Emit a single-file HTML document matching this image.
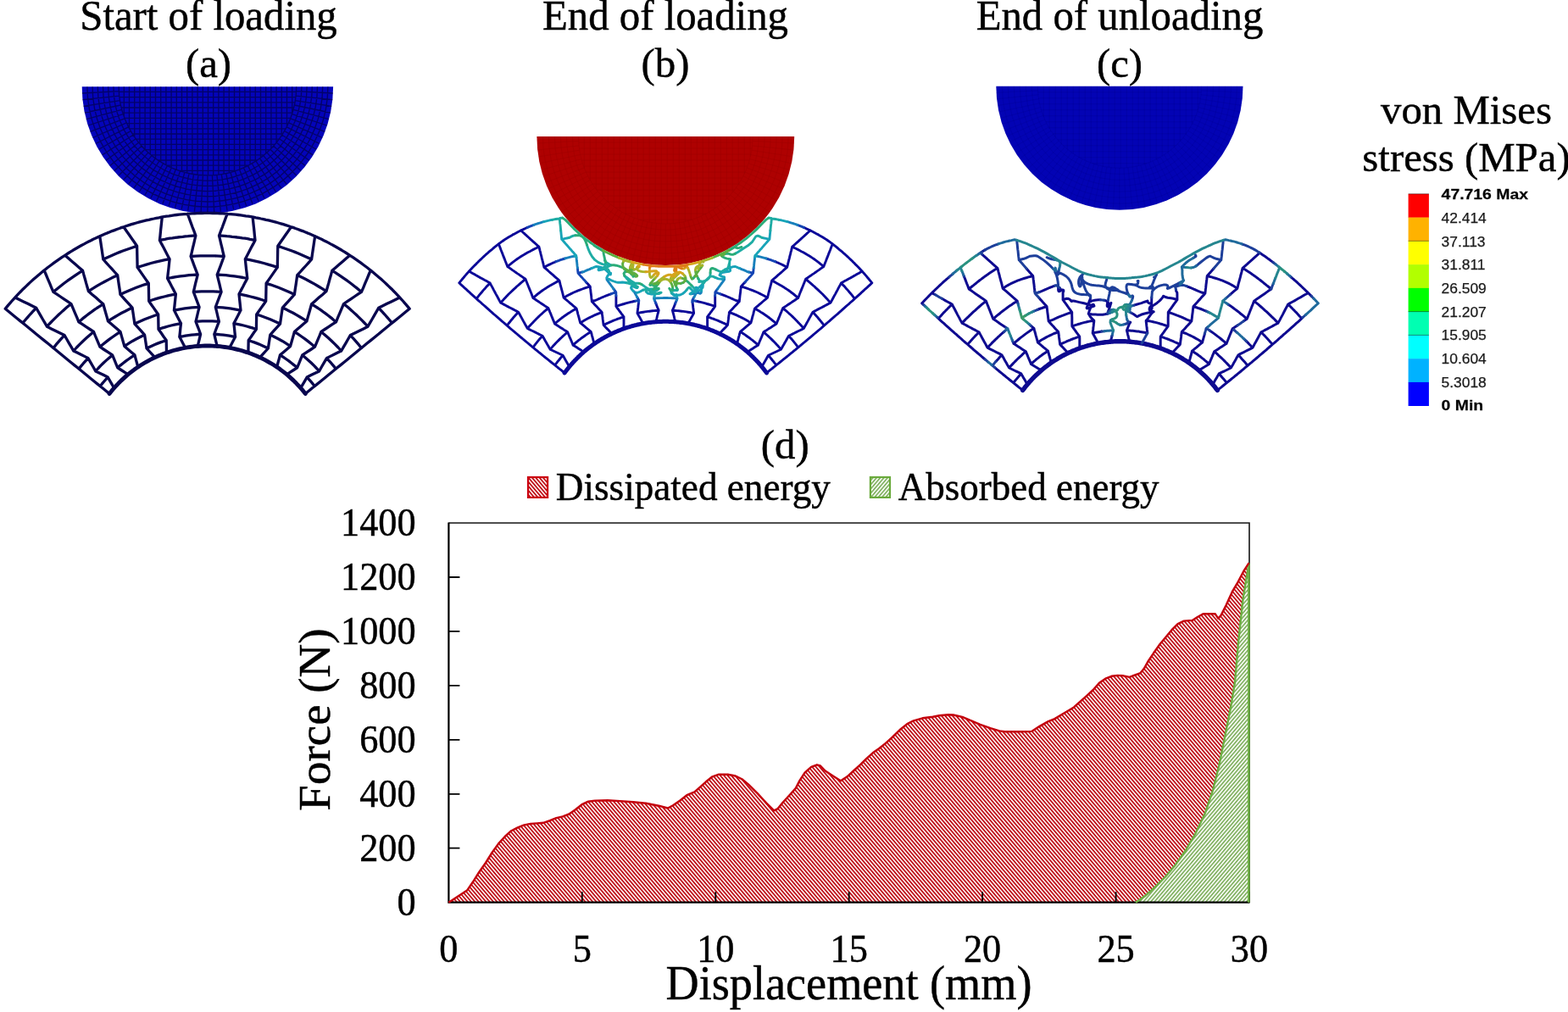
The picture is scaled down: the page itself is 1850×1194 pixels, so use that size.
<!DOCTYPE html>
<html lang="en"><head><meta charset="utf-8"><title>Figure</title>
<style>
html,body{margin:0;padding:0;background:#fff;}
body{width:1850px;height:1194px;overflow:hidden;}
svg{display:block;}
.serif{font-family:"Liberation Serif",serif;fill:#000;stroke:#000;stroke-width:0.45px;}
.sans{font-family:"Liberation Sans",sans-serif;fill:#000;stroke:#111;stroke-width:0.25px;}
</style></head>
<body>
<svg width="1850" height="1194" viewBox="0 0 1850 1194">
<path d="M96.7,102.2 H393.1 A148.2,149.6 0 0 1 96.7,102.2 Z" fill="#0404ba"/>
<path d="M102.9,102.2 A142.0,142.0 0 0 0 386.9,102.2 M109.1,102.2 A135.8,135.8 0 0 0 380.7,102.2 M115.3,102.2 A129.6,129.6 0 0 0 374.5,102.2 M121.5,102.2 A123.4,123.4 0 0 0 368.3,102.2 M127.7,102.2 A117.2,117.2 0 0 0 362.1,102.2 M133.9,102.2 A111.0,111.0 0 0 0 355.9,102.2 M140.1,102.2 A104.8,104.8 0 0 0 349.7,102.2 M140.2,107.7 L96.9,110.0 M140.7,113.2 L97.5,117.7 M141.4,118.6 L98.5,125.4 M142.4,124.0 L99.9,133.0 M143.7,129.3 L101.7,140.6 M145.2,134.6 L104.0,148.0 M147.1,139.8 L106.5,155.3 M149.2,144.8 L109.5,162.5 M151.5,149.8 L112.9,169.5 M154.1,154.6 L116.6,176.3 M157.0,159.3 L120.6,182.9 M160.1,163.8 L125.0,189.3 M163.5,168.2 L129.7,195.5 M167.0,172.3 L134.8,201.4 M170.8,176.3 L140.1,207.0 M174.8,180.1 L145.7,212.3 M178.9,183.6 L151.6,217.4 M183.3,187.0 L157.8,222.1 M187.8,190.1 L164.2,226.5 M192.5,193.0 L170.8,230.5 M197.3,195.6 L177.6,234.2 M202.3,197.9 L184.6,237.6 M207.3,200.0 L191.8,240.6 M212.5,201.9 L199.1,243.1 M217.8,203.4 L206.5,245.4 M223.1,204.7 L214.1,247.2 M228.5,205.7 L221.7,248.6 M233.9,206.4 L229.4,249.6 M239.4,206.9 L237.1,250.2 M244.9,207.0 L244.9,250.4 M250.4,206.9 L252.7,250.2 M255.9,206.4 L260.4,249.6 M261.3,205.7 L268.1,248.6 M266.7,204.7 L275.7,247.2 M272.0,203.4 L283.3,245.4 M277.3,201.9 L290.7,243.1 M282.5,200.0 L298.0,240.6 M287.5,197.9 L305.2,237.6 M292.5,195.6 L312.2,234.2 M297.3,193.0 L319.0,230.5 M302.0,190.1 L325.6,226.5 M306.5,187.0 L332.0,222.1 M310.9,183.6 L338.2,217.4 M315.0,180.1 L344.1,212.3 M319.0,176.3 L349.7,207.0 M322.8,172.3 L355.0,201.4 M326.3,168.2 L360.1,195.5 M329.7,163.8 L364.8,189.3 M332.8,159.3 L369.2,182.9 M335.7,154.6 L373.2,176.3 M338.3,149.8 L376.9,169.5 M340.6,144.8 L380.3,162.5 M342.7,139.8 L383.3,155.3 M344.6,134.6 L385.8,148.0 M346.1,129.3 L388.1,140.6 M347.4,124.0 L389.9,133.0 M348.4,118.6 L391.3,125.4 M349.1,113.2 L392.3,117.7 M349.6,107.7 L392.9,110.0 M146.3,102.2 v35.5 M152.5,102.2 v49.4 M158.7,102.2 v59.6 M164.9,102.2 v67.7 M171.1,102.2 v74.4 M177.3,102.2 v80.1 M183.5,102.2 v84.9 M189.7,102.2 v89.1 M195.9,102.2 v92.6 M202.1,102.2 v95.7 M208.3,102.2 v98.2 M214.5,102.2 v100.3 M220.7,102.2 v102.0 M226.9,102.2 v103.2 M233.1,102.2 v104.1 M239.3,102.2 v104.7 M245.5,102.2 v104.8 M251.7,102.2 v104.6 M257.9,102.2 v104.0 M264.1,102.2 v103.0 M270.3,102.2 v101.7 M276.5,102.2 v99.9 M282.7,102.2 v97.7 M288.9,102.2 v95.1 M295.1,102.2 v92.0 M301.3,102.2 v88.3 M307.5,102.2 v84.0 M313.7,102.2 v79.1 M319.9,102.2 v73.2 M326.1,102.2 v66.3 M332.3,102.2 v57.8 M338.5,102.2 v47.1 M344.7,102.2 v32.0 M140.3,108.4 h209.2 M140.8,114.6 h208.1 M141.8,120.8 h206.3 M143.1,127.0 h203.6 M144.8,133.2 h200.2 M146.9,139.4 h196.0 M149.5,145.6 h190.8 M152.6,151.8 h184.6 M156.2,158.0 h177.4 M160.4,164.2 h169.0 M165.3,170.4 h159.1 M171.1,176.6 h147.6 M177.9,182.8 h134.0 M186.2,189.0 h117.5 M196.6,195.2 h96.6 M211.1,201.4 h67.6" fill="none" stroke="#000018" stroke-opacity="0.5" stroke-width="1.3"/>
<path d="M633.4,161.1 H937.2 A151.9,152.0 0 0 1 633.4,161.1 Z" fill="#ae0101"/>
<path d="M640.4,161.1 A144.9,144.9 0 0 0 930.2,161.1 M647.4,161.1 A137.9,137.9 0 0 0 923.2,161.1 M654.4,161.1 A130.9,130.9 0 0 0 916.2,161.1 M661.4,161.1 A123.9,123.9 0 0 0 909.2,161.1 M668.4,161.1 A116.9,116.9 0 0 0 902.2,161.1 M675.4,161.1 A109.9,109.9 0 0 0 895.2,161.1 M682.4,161.1 A102.9,102.9 0 0 0 888.2,161.1 M682.5,166.5 L633.6,169.0 M683.0,171.9 L634.2,177.0 M683.7,177.2 L635.3,184.9 M684.6,182.5 L636.7,192.7 M685.9,187.7 L638.6,200.4 M687.4,192.9 L640.8,208.0 M689.2,198.0 L643.5,215.5 M691.3,203.0 L646.5,222.9 M693.6,207.8 L650.0,230.1 M696.2,212.5 L653.8,237.0 M699.0,217.1 L657.9,243.8 M702.1,221.6 L662.4,250.4 M705.3,225.9 L667.3,256.7 M708.8,230.0 L672.4,262.7 M712.5,233.9 L677.9,268.5 M716.4,237.6 L683.7,274.0 M720.5,241.1 L689.7,279.1 M724.8,244.3 L696.0,284.0 M729.3,247.4 L702.6,288.5 M733.8,250.2 L709.3,292.6 M738.6,252.8 L716.3,296.4 M743.4,255.1 L723.5,299.9 M748.4,257.2 L730.9,302.9 M753.5,259.0 L738.4,305.6 M758.7,260.5 L746.0,307.8 M763.9,261.8 L753.7,309.7 M769.2,262.7 L761.5,311.1 M774.5,263.4 L769.4,312.2 M779.9,263.9 L777.4,312.8 M785.3,264.0 L785.3,313.0 M790.7,263.9 L793.2,312.8 M796.1,263.4 L801.2,312.2 M801.4,262.7 L809.1,311.1 M806.7,261.8 L816.9,309.7 M811.9,260.5 L824.6,307.8 M817.1,259.0 L832.2,305.6 M822.2,257.2 L839.7,302.9 M827.2,255.1 L847.1,299.9 M832.0,252.8 L854.3,296.4 M836.7,250.2 L861.2,292.6 M841.3,247.4 L868.0,288.5 M845.8,244.3 L874.6,284.0 M850.1,241.1 L880.9,279.1 M854.2,237.6 L886.9,274.0 M858.1,233.9 L892.7,268.5 M861.8,230.0 L898.2,262.7 M865.3,225.9 L903.3,256.7 M868.5,221.6 L908.2,250.4 M871.6,217.1 L912.7,243.8 M874.4,212.5 L916.8,237.0 M877.0,207.8 L920.6,230.1 M879.3,203.0 L924.1,222.9 M881.4,198.0 L927.1,215.5 M883.2,192.9 L929.8,208.0 M884.7,187.7 L932.0,200.4 M886.0,182.5 L933.9,192.7 M886.9,177.2 L935.3,184.9 M887.6,171.9 L936.4,177.0 M888.1,166.5 L937.0,169.0 M689.4,161.1 v37.3 M696.4,161.1 v51.8 M703.4,161.1 v62.3 M710.4,161.1 v70.6 M717.4,161.1 v77.3 M724.4,161.1 v82.9 M731.4,161.1 v87.7 M738.4,161.1 v91.6 M745.4,161.1 v94.8 M752.4,161.1 v97.5 M759.4,161.1 v99.6 M766.4,161.1 v101.1 M773.4,161.1 v102.2 M780.4,161.1 v102.8 M787.4,161.1 v102.9 M794.4,161.1 v102.5 M801.4,161.1 v101.6 M808.4,161.1 v100.3 M815.4,161.1 v98.4 M822.4,161.1 v96.0 M829.4,161.1 v93.0 M836.4,161.1 v89.3 M843.4,161.1 v84.9 M850.4,161.1 v79.7 M857.4,161.1 v73.4 M864.4,161.1 v65.8 M871.4,161.1 v56.3 M878.4,161.1 v43.8 M885.4,161.1 v23.8 M682.6,168.1 h205.3 M683.4,175.1 h203.9 M684.6,182.1 h201.5 M686.3,189.1 h198.0 M688.5,196.1 h193.5 M691.4,203.1 h187.9 M694.8,210.1 h181.0 M699.0,217.1 h172.7 M703.9,224.1 h162.7 M709.9,231.1 h150.8 M717.0,238.1 h136.5 M725.9,245.1 h118.9 M737.3,252.1 h96.1 M753.9,259.1 h62.8" fill="none" stroke="#5a0000" stroke-opacity="0.09" stroke-width="1.0"/>
<path d="M1175.3,101.7 H1466.5 A145.6,146.0 0 0 1 1175.3,101.7 Z" fill="#0303b4"/>
<path d="M1182.3,101.7 A138.6,138.6 0 0 0 1459.5,101.7 M1189.3,101.7 A131.6,131.6 0 0 0 1452.5,101.7 M1196.3,101.7 A124.6,124.6 0 0 0 1445.5,101.7 M1203.3,101.7 A117.6,117.6 0 0 0 1438.5,101.7 M1210.3,101.7 A110.6,110.6 0 0 0 1431.5,101.7 M1217.3,101.7 A103.6,103.6 0 0 0 1424.5,101.7 M1224.3,101.7 A96.6,96.6 0 0 0 1417.5,101.7 M1224.4,106.8 L1175.5,109.3 M1224.8,111.8 L1176.1,116.9 M1225.5,116.8 L1177.1,124.5 M1226.4,121.8 L1178.5,132.0 M1227.6,126.7 L1180.3,139.4 M1229.0,131.6 L1182.4,146.7 M1230.7,136.3 L1185.0,153.9 M1232.7,141.0 L1187.9,160.9 M1234.8,145.6 L1191.2,167.8 M1237.2,150.0 L1194.8,174.5 M1239.9,154.3 L1198.8,181.0 M1242.7,158.5 L1203.1,187.3 M1245.8,162.5 L1207.7,193.3 M1249.1,166.3 L1212.7,199.1 M1252.6,170.0 L1217.9,204.7 M1256.3,173.5 L1223.5,209.9 M1260.1,176.8 L1229.3,214.9 M1264.1,179.9 L1235.3,219.5 M1268.3,182.7 L1241.6,223.8 M1272.6,185.4 L1248.1,227.8 M1277.0,187.8 L1254.8,231.4 M1281.6,189.9 L1261.7,234.7 M1286.3,191.9 L1268.7,237.6 M1291.0,193.6 L1275.9,240.2 M1295.9,195.0 L1283.2,242.3 M1300.8,196.2 L1290.6,244.1 M1305.8,197.1 L1298.1,245.5 M1310.8,197.8 L1305.7,246.5 M1315.8,198.2 L1313.3,247.1 M1320.9,198.3 L1320.9,247.3 M1326.0,198.2 L1328.5,247.1 M1331.0,197.8 L1336.1,246.5 M1336.0,197.1 L1343.7,245.5 M1341.0,196.2 L1351.2,244.1 M1345.9,195.0 L1358.6,242.3 M1350.8,193.6 L1365.9,240.2 M1355.5,191.9 L1373.1,237.6 M1360.2,189.9 L1380.1,234.7 M1364.8,187.8 L1387.0,231.4 M1369.2,185.4 L1393.7,227.8 M1373.5,182.7 L1400.2,223.8 M1377.7,179.9 L1406.5,219.5 M1381.7,176.8 L1412.5,214.9 M1385.5,173.5 L1418.3,209.9 M1389.2,170.0 L1423.9,204.7 M1392.7,166.3 L1429.1,199.1 M1396.0,162.5 L1434.1,193.3 M1399.1,158.5 L1438.7,187.3 M1401.9,154.3 L1443.0,181.0 M1404.6,150.0 L1447.0,174.5 M1407.0,145.6 L1450.6,167.8 M1409.1,141.0 L1453.9,160.9 M1411.1,136.3 L1456.8,153.9 M1412.8,131.6 L1459.4,146.7 M1414.2,126.7 L1461.5,139.4 M1415.4,121.8 L1463.3,132.0 M1416.3,116.8 L1464.7,124.5 M1417.0,111.8 L1465.7,116.9 M1417.4,106.8 L1466.3,109.3 M1231.3,101.7 v36.1 M1238.3,101.7 v50.1 M1245.3,101.7 v60.1 M1252.3,101.7 v68.0 M1259.3,101.7 v74.4 M1266.3,101.7 v79.7 M1273.3,101.7 v84.1 M1280.3,101.7 v87.7 M1287.3,101.7 v90.6 M1294.3,101.7 v92.9 M1301.3,101.7 v94.6 M1308.3,101.7 v95.8 M1315.3,101.7 v96.4 M1322.3,101.7 v96.6 M1329.3,101.7 v96.2 M1336.3,101.7 v95.4 M1343.3,101.7 v94.0 M1350.3,101.7 v92.0 M1357.3,101.7 v89.5 M1364.3,101.7 v86.3 M1371.3,101.7 v82.4 M1378.3,101.7 v77.7 M1385.3,101.7 v72.0 M1392.3,101.7 v65.1 M1399.3,101.7 v56.4 M1406.3,101.7 v45.1 M1413.3,101.7 v28.2 M1224.6,108.7 h192.7 M1225.3,115.7 h191.2 M1226.6,122.7 h188.6 M1228.4,129.7 h184.9 M1230.9,136.7 h180.1 M1233.9,143.7 h174.0 M1237.7,150.7 h166.5 M1242.2,157.7 h157.4 M1247.7,164.7 h146.5 M1254.3,171.7 h133.1 M1262.6,178.7 h116.7 M1273.2,185.7 h95.4 M1288.5,192.7 h64.8" fill="none" stroke="#000050" stroke-opacity="0.1" stroke-width="1.0"/>
<path d="M134.6,457.8 L132.2,453.6 L129.7,449.3 L127.2,445.0 L122.4,442.6 L117.6,440.3 L112.8,437.9 L109.9,432.8 L106.9,427.7 L104.0,422.6 L99.7,420.4 L95.4,418.3 L91.0,416.1 L86.7,414.0 L84.1,409.4 L81.4,404.8 L78.8,400.2 L76.1,395.6 L70.9,393.0 L65.8,390.5 L60.6,387.9 L55.4,385.3 L52.9,380.9 L50.3,376.5 L47.8,372.1 L45.2,367.7 L42.7,363.3 L37.7,360.8 L32.8,358.3 L27.8,355.9 L22.8,353.4 L17.8,350.9 M151.0,441.9 L147.0,439.2 L142.9,436.5 L138.8,433.8 L136.7,428.8 L134.7,423.9 L132.6,418.9 L127.7,415.7 L122.8,412.5 L117.9,409.2 L116.1,404.8 L114.2,400.3 L112.3,395.9 L110.5,391.4 L106.1,388.5 L101.7,385.6 L97.3,382.7 L92.9,379.8 L90.7,374.4 L88.4,369.1 L86.2,363.8 L83.9,358.5 L79.7,355.7 L75.5,352.9 L71.3,350.0 L67.1,347.2 L62.9,344.4 L60.7,339.3 L58.6,334.2 L56.4,329.1 L54.3,324.0 L52.1,318.9 M162.8,433.0 L161.5,428.3 L160.2,423.6 L158.9,418.8 L154.9,415.4 L150.8,411.9 L146.8,408.4 L145.2,402.8 L143.6,397.1 L142.0,391.5 L138.4,388.3 L134.8,385.2 L131.1,382.1 L127.5,379.0 L126.1,373.9 L124.6,368.8 L123.2,363.7 L121.8,358.7 L117.4,354.9 L113.1,351.1 L108.7,347.4 L104.4,343.6 L103.0,338.7 L101.6,333.9 L100.3,329.0 L98.9,324.2 L97.6,319.3 L93.4,315.7 L89.2,312.1 L85.0,308.5 L80.8,304.8 L76.6,301.2 M182.8,421.7 L179.5,418.1 L176.2,414.5 L173.0,410.9 L172.2,405.6 L171.4,400.3 L170.6,395.1 L166.7,390.7 L162.8,386.4 L158.9,382.1 L158.2,377.3 L157.5,372.6 L156.8,367.8 L156.1,363.1 L152.6,359.2 L149.1,355.3 L145.5,351.4 L142.0,347.5 L141.2,341.8 L140.3,336.1 L139.5,330.4 L138.7,324.7 L135.3,321.0 L131.9,317.2 L128.5,313.5 L125.2,309.8 L121.8,306.0 L121.0,300.6 L120.2,295.1 L119.4,289.7 L118.6,284.2 L117.7,278.7 M196.5,416.2 L196.4,411.3 L196.3,406.4 L196.2,401.5 L193.1,397.2 L190.1,392.8 L187.0,388.5 L186.9,382.6 L186.8,376.8 L186.7,371.0 L183.9,367.0 L181.2,363.1 L178.4,359.2 L175.7,355.3 L175.6,350.0 L175.5,344.8 L175.4,339.5 L175.3,334.3 L172.0,329.6 L168.7,324.9 L165.4,320.1 L162.1,315.4 L162.0,310.4 L161.9,305.4 L161.8,300.3 L161.7,295.3 L161.6,290.3 L158.5,285.8 L155.3,281.2 L152.2,276.7 L149.0,272.2 L145.9,267.7 M218.6,410.3 L216.3,406.0 L214.1,401.8 L211.8,397.5 L212.4,392.2 L212.9,386.9 L213.5,381.6 L210.8,376.4 L208.1,371.3 L205.4,366.1 L205.9,361.3 L206.4,356.6 L206.9,351.8 L207.4,347.1 L205.0,342.4 L202.5,337.8 L200.1,333.1 L197.6,328.5 L198.2,322.8 L198.9,317.1 L199.5,311.4 L200.1,305.7 L197.7,301.2 L195.4,296.8 L193.1,292.3 L190.7,287.9 L188.4,283.4 L189.0,278.0 L189.5,272.5 L190.1,267.0 L190.7,261.5 L191.3,256.1 M233.2,408.4 L234.4,403.7 L235.5,399.0 L236.6,394.3 L234.8,389.3 L232.9,384.3 L231.0,379.3 L232.4,373.7 L233.7,368.0 L235.1,362.3 L233.4,357.8 L231.7,353.4 L230.0,348.9 L228.3,344.4 L229.5,339.3 L230.7,334.2 L232.0,329.1 L233.2,324.0 L231.1,318.6 L229.1,313.3 L227.1,307.9 L225.1,302.5 L226.3,297.6 L227.4,292.7 L228.6,287.8 L229.7,283.0 L230.9,278.1 L229.0,272.9 L227.0,267.8 L225.1,262.6 L223.2,257.4 L221.3,252.3 M256.2,408.4 L255.0,403.7 L253.9,399.0 L252.8,394.3 L254.6,389.3 L256.5,384.3 L258.4,379.3 L257.0,373.7 L255.7,368.0 L254.3,362.3 L256.0,357.8 L257.7,353.4 L259.4,348.9 L261.1,344.4 L259.9,339.3 L258.7,334.2 L257.4,329.1 L256.2,324.0 L258.3,318.6 L260.3,313.3 L262.3,307.9 L264.3,302.5 L263.1,297.6 L262.0,292.7 L260.8,287.8 L259.7,283.0 L258.5,278.1 L260.4,272.9 L262.4,267.8 L264.3,262.6 L266.2,257.4 L268.1,252.3 M270.8,410.3 L273.1,406.0 L275.3,401.8 L277.6,397.5 L277.0,392.2 L276.5,386.9 L275.9,381.6 L278.6,376.4 L281.3,371.3 L284.0,366.1 L283.5,361.3 L283.0,356.6 L282.5,351.8 L282.0,347.1 L284.4,342.4 L286.9,337.8 L289.3,333.1 L291.8,328.5 L291.2,322.8 L290.5,317.1 L289.9,311.4 L289.3,305.7 L291.7,301.2 L294.0,296.8 L296.3,292.3 L298.7,287.9 L301.0,283.4 L300.4,278.0 L299.9,272.5 L299.3,267.0 L298.7,261.5 L298.1,256.1 M292.9,416.2 L293.0,411.3 L293.1,406.4 L293.2,401.5 L296.3,397.2 L299.3,392.8 L302.4,388.5 L302.5,382.6 L302.6,376.8 L302.7,371.0 L305.5,367.0 L308.2,363.1 L311.0,359.2 L313.7,355.3 L313.8,350.0 L313.9,344.8 L314.0,339.5 L314.1,334.3 L317.4,329.6 L320.7,324.9 L324.0,320.1 L327.3,315.4 L327.4,310.4 L327.5,305.4 L327.6,300.3 L327.7,295.3 L327.8,290.3 L330.9,285.8 L334.1,281.2 L337.2,276.7 L340.4,272.2 L343.5,267.7 M306.6,421.7 L309.9,418.1 L313.2,414.5 L316.4,410.9 L317.2,405.6 L318.0,400.3 L318.8,395.1 L322.7,390.7 L326.6,386.4 L330.5,382.1 L331.2,377.3 L331.9,372.6 L332.6,367.8 L333.3,363.1 L336.8,359.2 L340.3,355.3 L343.9,351.4 L347.4,347.5 L348.2,341.8 L349.1,336.1 L349.9,330.4 L350.7,324.7 L354.1,321.0 L357.5,317.2 L360.9,313.5 L364.2,309.8 L367.6,306.0 L368.4,300.6 L369.2,295.1 L370.0,289.7 L370.8,284.2 L371.7,278.7 M326.6,433.0 L327.9,428.3 L329.2,423.6 L330.5,418.8 L334.5,415.4 L338.6,411.9 L342.6,408.4 L344.2,402.8 L345.8,397.1 L347.4,391.5 L351.0,388.3 L354.6,385.2 L358.3,382.1 L361.9,379.0 L363.3,373.9 L364.8,368.8 L366.2,363.7 L367.6,358.7 L372.0,354.9 L376.3,351.1 L380.7,347.4 L385.0,343.6 L386.4,338.7 L387.8,333.9 L389.1,329.0 L390.5,324.2 L391.8,319.3 L396.0,315.7 L400.2,312.1 L404.4,308.5 L408.6,304.8 L412.8,301.2 M338.4,441.9 L342.4,439.2 L346.5,436.5 L350.6,433.8 L352.7,428.8 L354.7,423.9 L356.8,418.9 L361.7,415.7 L366.6,412.5 L371.5,409.2 L373.3,404.8 L375.2,400.3 L377.1,395.9 L378.9,391.4 L383.3,388.5 L387.7,385.6 L392.1,382.7 L396.5,379.8 L398.7,374.4 L401.0,369.1 L403.2,363.8 L405.5,358.5 L409.7,355.7 L413.9,352.9 L418.1,350.0 L422.3,347.2 L426.5,344.4 L428.7,339.3 L430.8,334.2 L433.0,329.1 L435.1,324.0 L437.3,318.9 M354.8,457.8 L357.2,453.6 L359.7,449.3 L362.2,445.0 L367.0,442.6 L371.8,440.3 L376.6,437.9 L379.5,432.8 L382.5,427.7 L385.4,422.6 L389.7,420.4 L394.0,418.3 L398.4,416.1 L402.7,414.0 L405.3,409.4 L408.0,404.8 L410.6,400.2 L413.3,395.6 L418.5,393.0 L423.6,390.5 L428.8,387.9 L434.0,385.3 L436.5,380.9 L439.1,376.5 L441.6,372.1 L444.2,367.7 L446.7,363.3 L451.7,360.8 L456.6,358.3 L461.6,355.9 L466.6,353.4 L471.6,350.9 M118.2,455.6 L120.3,452.9 L122.6,450.2 L124.9,447.6 L127.2,445.0 M93.1,435.1 L95.7,431.9 L98.4,428.7 L101.2,425.6 L104.0,422.6 M63.0,410.6 L66.1,406.7 L69.4,402.9 L72.7,399.2 L76.1,395.6 M26.9,381.1 L28.8,378.8 L30.7,376.5 L32.6,374.3 L34.6,372.0 L36.6,369.8 L38.6,367.6 L40.7,365.5 L42.7,363.3 M112.8,437.9 L115.9,434.5 L119.1,431.2 L122.3,428.0 L125.7,424.9 L129.1,421.9 L132.6,418.9 M86.7,414.0 L90.4,410.0 L94.2,406.1 L98.2,402.2 L102.2,398.5 L106.3,394.9 L110.5,391.4 M55.4,385.3 L57.6,382.9 L59.9,380.5 L62.2,378.2 L64.5,375.9 L66.8,373.6 L69.2,371.3 L71.6,369.1 L74.0,366.9 L76.4,364.8 L78.9,362.6 L81.4,360.5 L83.9,358.5 M138.8,433.8 L142.0,431.1 L145.3,428.5 L148.6,425.9 L152.0,423.5 L155.4,421.1 L158.9,418.8 M117.9,409.2 L121.8,406.0 L125.7,402.9 L129.6,399.9 L133.7,397.0 L137.8,394.2 L142.0,391.5 M92.9,379.8 L95.2,377.9 L97.5,375.9 L99.8,374.1 L102.2,372.2 L104.6,370.4 L107.0,368.7 L109.4,366.9 L111.8,365.2 L114.3,363.5 L116.8,361.9 L119.3,360.3 L121.8,358.7 M62.9,344.4 L65.6,342.2 L68.4,339.9 L71.2,337.7 L74.0,335.5 L76.9,333.3 L79.7,331.2 L82.7,329.1 L85.6,327.1 L88.5,325.1 L91.5,323.1 L94.5,321.2 L97.6,319.3 M146.8,408.4 L150.0,406.3 L153.4,404.2 L156.7,402.2 L160.2,400.3 L163.6,398.5 L167.1,396.7 L170.6,395.1 M127.5,379.0 L131.4,376.4 L135.4,374.0 L139.4,371.6 L143.5,369.3 L147.7,367.2 L151.9,365.1 L156.1,363.1 M104.4,343.6 L109.1,340.6 L113.9,337.7 L118.7,334.9 L123.6,332.2 L128.6,329.6 L133.6,327.1 L138.7,324.7 M173.0,410.9 L176.2,409.4 L179.5,407.9 L182.7,406.5 L186.1,405.1 L189.4,403.9 L192.8,402.7 L196.2,401.5 M158.9,382.1 L162.8,380.2 L166.7,378.5 L170.6,376.8 L174.6,375.2 L178.6,373.7 L182.6,372.3 L186.7,371.0 M142.0,347.5 L146.6,345.3 L151.3,343.2 L156.0,341.2 L160.8,339.3 L165.6,337.5 L170.4,335.8 L175.3,334.3 M121.8,306.0 L124.5,304.7 L127.3,303.4 L130.1,302.2 L132.9,300.9 L135.7,299.7 L138.6,298.5 L141.4,297.4 L144.3,296.3 L147.1,295.2 L150.0,294.2 L152.9,293.2 L155.8,292.2 L158.7,291.2 L161.6,290.3 M187.0,388.5 L190.7,387.2 L194.5,386.1 L198.2,385.0 L202.0,384.0 L205.8,383.1 L209.7,382.3 L213.5,381.6 M175.7,355.3 L180.2,353.8 L184.6,352.4 L189.1,351.1 L193.7,350.0 L198.2,348.9 L202.8,347.9 L207.4,347.1 M162.1,315.4 L167.5,313.7 L172.8,312.1 L178.2,310.5 L183.6,309.1 L189.1,307.9 L194.6,306.7 L200.1,305.7 M211.8,397.5 L215.3,396.8 L218.8,396.2 L222.4,395.6 L225.9,395.2 L229.5,394.8 L233.1,394.5 L236.6,394.3 M205.4,366.1 L209.6,365.3 L213.8,364.6 L218.0,363.9 L222.3,363.4 L226.5,362.9 L230.8,362.6 L235.1,362.3 M197.6,328.5 L202.7,327.5 L207.7,326.7 L212.8,325.9 L217.9,325.3 L222.9,324.7 L228.0,324.3 L233.2,324.0 M188.4,283.4 L191.4,282.8 L194.4,282.3 L197.4,281.7 L200.4,281.2 L203.5,280.8 L206.5,280.3 L209.5,280.0 L212.6,279.6 L215.6,279.3 L218.7,278.9 L221.7,278.7 L224.8,278.4 L227.8,278.2 L230.9,278.1 M231.0,379.3 L234.9,379.1 L238.8,378.9 L242.7,378.8 L246.7,378.8 L250.6,378.9 L254.5,379.1 L258.4,379.3 M228.3,344.4 L233.0,344.1 L237.7,343.9 L242.4,343.8 L247.0,343.8 L251.7,343.9 L256.4,344.1 L261.1,344.4 M225.1,302.5 L230.7,302.1 L236.3,301.9 L241.9,301.8 L247.5,301.8 L253.1,301.9 L258.7,302.1 L264.3,302.5 M252.8,394.3 L256.3,394.5 L259.9,394.8 L263.5,395.2 L267.0,395.6 L270.6,396.2 L274.1,396.8 L277.6,397.5 M254.3,362.3 L258.6,362.6 L262.9,362.9 L267.1,363.4 L271.4,363.9 L275.6,364.6 L279.8,365.3 L284.0,366.1 M256.2,324.0 L261.4,324.3 L266.5,324.7 L271.5,325.3 L276.6,325.9 L281.7,326.7 L286.7,327.5 L291.8,328.5 M258.5,278.1 L261.6,278.2 L264.6,278.4 L267.7,278.7 L270.7,278.9 L273.8,279.3 L276.8,279.6 L279.9,280.0 L282.9,280.3 L285.9,280.8 L289.0,281.2 L292.0,281.7 L295.0,282.3 L298.0,282.8 L301.0,283.4 M275.9,381.6 L279.7,382.3 L283.6,383.1 L287.4,384.0 L291.2,385.0 L294.9,386.1 L298.7,387.2 L302.4,388.5 M282.0,347.1 L286.6,347.9 L291.2,348.9 L295.7,350.0 L300.3,351.1 L304.8,352.4 L309.2,353.8 L313.7,355.3 M289.3,305.7 L294.8,306.7 L300.3,307.9 L305.8,309.1 L311.2,310.5 L316.6,312.1 L321.9,313.7 L327.3,315.4 M293.2,401.5 L296.6,402.7 L300.0,403.9 L303.3,405.1 L306.7,406.5 L309.9,407.9 L313.2,409.4 L316.4,410.9 M302.7,371.0 L306.8,372.3 L310.8,373.7 L314.8,375.2 L318.8,376.8 L322.7,378.5 L326.6,380.2 L330.5,382.1 M314.1,334.3 L319.0,335.8 L323.8,337.5 L328.6,339.3 L333.4,341.2 L338.1,343.2 L342.8,345.3 L347.4,347.5 M327.8,290.3 L330.7,291.2 L333.6,292.2 L336.5,293.2 L339.4,294.2 L342.3,295.2 L345.1,296.3 L348.0,297.4 L350.8,298.5 L353.7,299.7 L356.5,300.9 L359.3,302.2 L362.1,303.4 L364.9,304.7 L367.6,306.0 M318.8,395.1 L322.3,396.7 L325.8,398.5 L329.2,400.3 L332.7,402.2 L336.0,404.2 L339.4,406.3 L342.6,408.4 M333.3,363.1 L337.5,365.1 L341.7,367.2 L345.9,369.3 L350.0,371.6 L354.0,374.0 L358.0,376.4 L361.9,379.0 M350.7,324.7 L355.8,327.1 L360.8,329.6 L365.8,332.2 L370.7,334.9 L375.5,337.7 L380.3,340.6 L385.0,343.6 M330.5,418.8 L334.0,421.1 L337.4,423.5 L340.8,425.9 L344.1,428.5 L347.4,431.1 L350.6,433.8 M347.4,391.5 L351.6,394.2 L355.7,397.0 L359.8,399.9 L363.7,402.9 L367.6,406.0 L371.5,409.2 M367.6,358.7 L370.1,360.3 L372.6,361.9 L375.1,363.5 L377.6,365.2 L380.0,366.9 L382.4,368.7 L384.8,370.4 L387.2,372.2 L389.6,374.1 L391.9,375.9 L394.2,377.9 L396.5,379.8 M391.8,319.3 L394.9,321.2 L397.9,323.1 L400.9,325.1 L403.8,327.1 L406.7,329.1 L409.7,331.2 L412.5,333.3 L415.4,335.5 L418.2,337.7 L421.0,339.9 L423.8,342.2 L426.5,344.4 M356.8,418.9 L360.3,421.9 L363.7,424.9 L367.1,428.0 L370.3,431.2 L373.5,434.5 L376.6,437.9 M378.9,391.4 L383.1,394.9 L387.2,398.5 L391.2,402.2 L395.2,406.1 L399.0,410.0 L402.7,414.0 M405.5,358.5 L408.0,360.5 L410.5,362.6 L413.0,364.8 L415.4,366.9 L417.8,369.1 L420.2,371.3 L422.6,373.6 L424.9,375.9 L427.2,378.2 L429.5,380.5 L431.8,382.9 L434.0,385.3 M362.2,445.0 L364.5,447.6 L366.8,450.2 L369.1,452.9 L371.2,455.6 M385.4,422.6 L388.2,425.6 L391.0,428.7 L393.7,431.9 L396.3,435.1 M413.3,395.6 L416.7,399.2 L420.0,402.9 L423.3,406.7 L426.4,410.6 M446.7,363.3 L448.7,365.5 L450.8,367.6 L452.8,369.8 L454.8,372.0 L456.8,374.3 L458.7,376.5 L460.6,378.8 L462.5,381.1 M6.2,364.3 L8.2,361.9 L10.1,359.6 L12.1,357.3 L14.1,355.0 L16.1,352.8 L18.1,350.6 L20.2,348.3 L22.3,346.1 L24.4,344.0 L26.5,341.8 L28.7,339.7 L30.9,337.6 L33.1,335.5 L35.3,333.4 L37.5,331.4 L39.8,329.3 L42.0,327.4 L44.3,325.4 L46.7,323.4 L49.0,321.5 L51.3,319.6 L53.7,317.7 L56.1,315.8 L58.5,314.0 L60.9,312.2 L63.3,310.4 L65.8,308.6 L68.3,306.8 L70.8,305.1 L73.3,303.4 L75.8,301.8 L78.4,300.1 L80.9,298.5 L83.5,296.9 L86.1,295.3 L88.7,293.8 L91.3,292.3 L93.9,290.8 L96.6,289.3 L99.3,287.9 L101.9,286.4 L104.6,285.0 L107.3,283.7 L110.0,282.3 L112.8,281.1 L115.5,279.8 L118.3,278.5 L121.1,277.3 L123.8,276.1 L126.6,274.9 L129.4,273.8 L132.2,272.6 L135.1,271.6 L137.9,270.5 L140.8,269.5 L143.6,268.4 L146.5,267.5 L149.4,266.5 L152.2,265.6 L155.1,264.7 L158.0,263.8 L160.9,263.0 L163.9,262.2 L166.8,261.4 L169.7,260.7 L172.7,259.9 L175.6,259.3 L178.6,258.6 L181.5,258.0 L184.5,257.3 L187.5,256.8 L190.5,256.2 L193.4,255.7 L196.4,255.2 L199.4,254.8 L202.4,254.3 L205.4,253.9 L208.4,253.5 L211.4,253.2 L214.5,252.9 L217.5,252.6 L220.5,252.4 L223.5,252.1 L226.5,251.9 L229.6,251.8 L232.6,251.6 L235.6,251.5 L238.6,251.5 L241.7,251.4 L244.7,251.4 L247.7,251.4 L250.8,251.5 L253.8,251.5 L256.8,251.6 L259.8,251.8 L262.9,251.9 L265.9,252.1 L268.9,252.4 L271.9,252.6 L274.9,252.9 L278.0,253.2 L281.0,253.5 L284.0,253.9 L287.0,254.3 L290.0,254.8 L293.0,255.2 L296.0,255.7 L298.9,256.2 L301.9,256.8 L304.9,257.3 L307.9,258.0 L310.8,258.6 L313.8,259.3 L316.7,259.9 L319.7,260.7 L322.6,261.4 L325.5,262.2 L328.5,263.0 L331.4,263.8 L334.3,264.7 L337.2,265.6 L340.0,266.5 L342.9,267.5 L345.8,268.4 L348.6,269.5 L351.5,270.5 L354.3,271.6 L357.2,272.6 L360.0,273.8 L362.8,274.9 L365.6,276.1 L368.3,277.3 L371.1,278.5 L373.9,279.8 L376.6,281.1 L379.4,282.3 L382.1,283.7 L384.8,285.0 L387.5,286.4 L390.1,287.9 L392.8,289.3 L395.5,290.8 L398.1,292.3 L400.7,293.8 L403.3,295.3 L405.9,296.9 L408.5,298.5 L411.0,300.1 L413.6,301.8 L416.1,303.4 L418.6,305.1 L421.1,306.8 L423.6,308.6 L426.1,310.4 L428.5,312.2 L430.9,314.0 L433.3,315.8 L435.7,317.7 L438.1,319.6 L440.4,321.5 L442.7,323.4 L445.1,325.4 L447.4,327.4 L449.6,329.3 L451.9,331.4 L454.1,333.4 L456.3,335.5 L458.5,337.6 L460.7,339.7 L462.9,341.8 L465.0,344.0 L467.1,346.1 L469.2,348.3 L471.3,350.6 L473.3,352.8 L475.3,355.0 L477.3,357.3 L479.3,359.6 L481.2,361.9 L483.2,364.3 M129.1,464.5 L124.5,460.8 L120.0,457.1 L115.4,453.4 L110.9,449.7 L106.3,445.9 L101.8,442.2 L97.2,438.5 L92.7,434.8 L88.1,431.1 L83.6,427.4 L79.0,423.7 L74.5,420.0 L69.9,416.2 L65.4,412.5 L60.8,408.8 L56.3,405.1 L51.7,401.4 L47.2,397.7 L42.6,394.0 L38.1,390.2 L33.5,386.5 L29.0,382.8 L24.4,379.1 L19.9,375.4 L15.3,371.7 L10.8,368.0 L6.2,364.3 M360.3,464.5 L364.9,460.8 L369.4,457.1 L374.0,453.4 L378.5,449.7 L383.1,445.9 L387.6,442.2 L392.2,438.5 L396.7,434.8 L401.3,431.1 L405.8,427.4 L410.4,423.7 L414.9,420.0 L419.5,416.2 L424.0,412.5 L428.6,408.8 L433.1,405.1 L437.7,401.4 L442.2,397.7 L446.8,394.0 L451.3,390.2 L455.9,386.5 L460.4,382.8 L465.0,379.1 L469.5,375.4 L474.1,371.7 L478.6,368.0 L483.2,364.3" fill="none" stroke="#08064e" stroke-width="3.3" stroke-linejoin="round" stroke-linecap="round"/>
<path d="M129.1,464.5 L130.9,462.2 L132.8,459.9 L134.8,457.7 L136.7,455.5 L138.8,453.3 L140.8,451.2 L142.9,449.1 L145.1,447.1 L147.3,445.1 L149.5,443.1 L151.8,441.2 L154.1,439.4 L156.4,437.6 L158.8,435.8 L161.2,434.1 L163.7,432.4 L166.2,430.8 L168.7,429.3 L171.2,427.8 L173.8,426.3 L176.4,424.9 L179.0,423.5 L181.7,422.2 L184.4,421.0 L187.1,419.8 L189.8,418.7 L192.6,417.6 L195.4,416.6 L198.2,415.6 L201.0,414.7 L203.8,413.8 L206.7,413.0 L209.5,412.3 L212.4,411.6 L215.3,411.0 L218.2,410.4 L221.1,409.9 L224.0,409.5 L227.0,409.1 L229.9,408.7 L232.9,408.5 L235.8,408.3 L238.8,408.1 L241.7,408.0 L244.7,408.0 L247.7,408.0 L250.6,408.1 L253.6,408.3 L256.5,408.5 L259.5,408.7 L262.4,409.1 L265.4,409.5 L268.3,409.9 L271.2,410.4 L274.1,411.0 L277.0,411.6 L279.9,412.3 L282.7,413.0 L285.6,413.8 L288.4,414.7 L291.2,415.6 L294.0,416.6 L296.8,417.6 L299.6,418.7 L302.3,419.8 L305.0,421.0 L307.7,422.2 L310.4,423.5 L313.0,424.9 L315.6,426.3 L318.2,427.8 L320.7,429.3 L323.2,430.8 L325.7,432.4 L328.2,434.1 L330.6,435.8 L333.0,437.6 L335.3,439.4 L337.6,441.2 L339.9,443.1 L342.1,445.1 L344.3,447.1 L346.5,449.1 L348.6,451.2 L350.6,453.3 L352.7,455.5 L354.6,457.7 L356.6,459.9 L358.5,462.2 L360.3,464.5" fill="none" stroke="#08064e" stroke-width="4.8" stroke-linejoin="round" stroke-linecap="round"/>
<path d="M671.8,432.6 L670.5,430.4 L669.2,428.2 L667.9,426.0 L666.6,423.7 L665.4,421.5 L664.1,419.3 L661.9,418.3 L659.8,417.3 L657.7,416.3 L655.5,415.3 L653.4,414.3 L651.3,413.3 L649.2,412.3 L648.0,410.3 L646.9,408.3 L645.7,406.3 L644.6,404.3 L643.4,402.3 L642.3,400.3 L641.2,398.3 L640.0,396.3 L637.8,395.2 L635.6,394.1 L633.4,393.0 L631.2,391.9 L629.0,390.8 L626.7,389.7 L624.5,388.6 L622.3,387.5 L621.1,385.3 L619.9,383.2 L618.7,381.0 L617.5,378.9 L616.4,376.8 L615.2,374.6 L614.0,372.5 L612.8,370.3 L611.6,368.2 L609.5,367.1 L607.4,366.0 L605.3,364.9 L603.2,363.8 L601.1,362.7 L599.0,361.6 L596.9,360.5 L594.8,359.4 L592.7,358.3 L590.7,357.2 L589.5,355.1 L588.4,353.0 L587.2,350.8 L586.1,348.7 L584.9,346.6 L583.8,344.5 L582.6,342.4 L581.5,340.2 L580.4,338.1 L579.2,336.0 L578.1,333.9 L576.0,332.7 L574.0,331.6 L571.9,330.5 L569.8,329.3 L567.8,328.2 L565.7,327.1 L563.7,325.9 L561.6,324.8 L559.6,323.6 L557.5,322.4 L555.5,321.3 L553.4,320.1 M688.9,415.2 L686.7,413.9 L684.6,412.5 L682.5,411.2 L680.4,409.8 L678.3,408.5 L676.1,407.2 L675.2,405.0 L674.3,402.8 L673.4,400.6 L672.4,398.4 L671.5,396.2 L670.6,394.0 L669.7,391.8 L667.8,390.6 L665.9,389.4 L664.0,388.1 L662.1,386.9 L660.2,385.7 L658.3,384.4 L656.4,383.2 L654.5,382.0 L653.6,379.7 L652.6,377.4 L651.7,375.1 L650.7,372.7 L649.8,370.4 L648.8,368.1 L647.9,365.8 L646.9,363.5 L644.9,362.2 L642.9,360.9 L640.9,359.5 L638.9,358.2 L636.9,356.9 L634.9,355.5 L632.9,354.2 L630.9,352.8 L628.9,351.5 L628.0,349.3 L627.2,347.0 L626.3,344.8 L625.4,342.6 L624.5,340.4 L623.6,338.2 L622.7,336.0 L621.8,333.7 L620.9,331.5 L620.0,329.3 L618.1,328.0 L616.2,326.6 L614.2,325.3 L612.3,323.9 L610.3,322.6 L608.4,321.3 L606.5,319.9 L604.5,318.6 L602.6,317.2 L600.7,315.8 L598.8,314.5 L597.9,312.3 L597.0,310.0 L596.1,307.8 L595.3,305.6 L594.4,303.4 L593.5,301.1 L592.7,298.9 L591.8,296.7 L590.9,294.5 L590.1,292.3 L589.2,290.0 L588.3,287.8 M701.2,405.7 L700.5,403.3 L699.8,400.9 L699.2,398.5 L698.5,396.1 L697.9,393.7 L697.2,391.4 L695.4,389.9 L693.6,388.4 L691.8,386.9 L690.1,385.4 L688.3,383.9 L686.5,382.4 L684.7,380.9 L684.1,378.8 L683.5,376.7 L683.0,374.5 L682.4,372.4 L681.8,370.3 L681.3,368.2 L680.7,366.1 L680.1,364.0 L678.3,362.4 L676.4,360.8 L674.5,359.2 L672.6,357.6 L670.8,356.0 L668.9,354.4 L667.0,352.8 L665.1,351.2 L664.5,348.9 L664.0,346.7 L663.4,344.4 L662.8,342.2 L662.2,339.9 L661.6,337.7 L661.0,335.4 L660.5,333.2 L659.9,331.0 L658.1,329.4 L656.3,327.9 L654.5,326.3 L652.7,324.7 L650.9,323.2 L649.1,321.6 L647.3,320.0 L645.6,318.4 L643.8,316.8 L642.0,315.3 L641.4,313.1 L640.9,310.9 L640.3,308.7 L639.8,306.5 L639.2,304.3 L638.7,302.1 L638.1,299.9 L637.6,297.7 L637.0,295.6 L636.5,293.4 L635.9,291.2 L634.1,289.6 L632.4,288.0 L630.6,286.4 L628.8,284.8 L627.0,283.2 L625.3,281.6 L623.5,280.0 L621.7,278.4 L620.0,276.8 L618.2,275.2 L616.4,273.5 L614.7,271.9 M721.9,393.6 L720.2,392.0 L718.6,390.3 L717.0,388.6 L715.3,386.9 L713.7,385.2 L712.1,383.4 L711.8,381.3 L711.5,379.1 L711.2,376.9 L711.0,374.8 L710.7,372.6 L710.4,370.5 L710.2,368.4 L708.7,366.8 L707.2,365.3 L705.8,363.7 L704.3,362.1 L702.8,360.5 L701.3,358.9 L699.8,357.3 L698.3,355.7 L698.1,353.5 L697.8,351.2 L697.6,349.0 L697.3,346.8 L697.0,344.6 L696.8,342.4 L696.5,340.2 L696.3,338.1 L694.7,336.3 L693.1,334.6 L691.5,332.9 M736.0,387.8 L736.0,385.4 L736.0,383.1 L736.0,380.8 L736.0,378.4 L736.0,376.1 L736.0,373.8 L734.7,372.0 L733.4,370.3 L732.1,368.5 L730.8,366.8 L729.5,365.0 L728.2,363.3 L726.9,361.5 L726.9,359.4 L726.9,357.3 L726.9,355.2 L726.9,353.1 L726.9,351.0 L726.9,348.9 M758.8,381.7 L757.6,379.7 L756.5,377.6 L755.4,375.6 L754.2,373.6 L753.1,371.6 L752.0,369.5 L752.2,367.4 L752.5,365.2 L752.8,363.0 L753.0,360.9 L753.3,358.7 L753.6,356.5 M773.7,379.8 L774.3,377.5 L774.9,375.3 L775.4,373.0 L776.0,370.7 L776.6,368.5 L777.2,366.2 L776.3,364.2 L775.5,362.2 L774.7,360.2 L773.9,358.1 M796.9,379.8 L796.3,377.5 L795.7,375.3 L795.2,373.0 L794.6,370.7 L794.0,368.5 L793.4,366.2 L794.3,364.2 L795.1,362.2 L795.9,360.2 L796.7,358.1 M811.8,381.7 L813.0,379.7 L814.1,377.6 L815.2,375.6 L816.4,373.6 L817.5,371.6 L818.6,369.5 L818.4,367.4 L818.1,365.2 L817.8,363.0 L817.6,360.9 L817.3,358.7 L817.0,356.5 M834.6,387.8 L834.6,385.4 L834.6,383.1 L834.6,380.8 L834.6,378.4 L834.6,376.1 L834.6,373.8 L835.9,372.0 L837.2,370.3 L838.5,368.5 L839.8,366.8 L841.1,365.0 L842.4,363.3 L843.7,361.5 L843.7,359.4 L843.7,357.3 L843.7,355.2 L843.7,353.1 L843.7,351.0 L843.7,348.9 M848.7,393.6 L850.4,392.0 L852.0,390.3 L853.6,388.6 L855.3,386.9 L856.9,385.2 L858.5,383.4 L858.8,381.3 L859.1,379.1 L859.4,376.9 L859.6,374.8 L859.9,372.6 L860.2,370.5 L860.4,368.4 L861.9,366.8 L863.4,365.3 L864.8,363.7 L866.3,362.1 L867.8,360.5 L869.3,358.9 L870.8,357.3 L872.3,355.7 L872.5,353.5 L872.8,351.2 L873.0,349.0 L873.3,346.8 L873.6,344.6 L873.8,342.4 L874.1,340.2 L874.3,338.1 L875.9,336.3 L877.5,334.6 L879.1,332.9 M869.4,405.7 L870.1,403.3 L870.8,400.9 L871.4,398.5 L872.1,396.1 L872.7,393.7 L873.4,391.4 L875.2,389.9 L877.0,388.4 L878.8,386.9 L880.5,385.4 L882.3,383.9 L884.1,382.4 L885.9,380.9 L886.5,378.8 L887.1,376.7 L887.6,374.5 L888.2,372.4 L888.8,370.3 L889.3,368.2 L889.9,366.1 L890.5,364.0 L892.3,362.4 L894.2,360.8 L896.1,359.2 L898.0,357.6 L899.8,356.0 L901.7,354.4 L903.6,352.8 L905.5,351.2 L906.1,348.9 L906.6,346.7 L907.2,344.4 L907.8,342.2 L908.4,339.9 L909.0,337.7 L909.6,335.4 L910.1,333.2 L910.7,331.0 L912.5,329.4 L914.3,327.9 L916.1,326.3 L917.9,324.7 L919.7,323.2 L921.5,321.6 L923.3,320.0 L925.0,318.4 L926.8,316.8 L928.6,315.3 L929.2,313.1 L929.7,310.9 L930.3,308.7 L930.8,306.5 L931.4,304.3 L931.9,302.1 L932.5,299.9 L933.0,297.7 L933.6,295.6 L934.1,293.4 L934.7,291.2 L936.5,289.6 L938.2,288.0 L940.0,286.4 L941.8,284.8 L943.6,283.2 L945.3,281.6 L947.1,280.0 L948.9,278.4 L950.6,276.8 L952.4,275.2 L954.2,273.5 L955.9,271.9 M881.7,415.2 L883.9,413.9 L886.0,412.5 L888.1,411.2 L890.2,409.8 L892.3,408.5 L894.5,407.2 L895.4,405.0 L896.3,402.8 L897.2,400.6 L898.2,398.4 L899.1,396.2 L900.0,394.0 L900.9,391.8 L902.8,390.6 L904.7,389.4 L906.6,388.1 L908.5,386.9 L910.4,385.7 L912.3,384.4 L914.2,383.2 L916.1,382.0 L917.0,379.7 L918.0,377.4 L918.9,375.1 L919.9,372.7 L920.8,370.4 L921.8,368.1 L922.7,365.8 L923.7,363.5 L925.7,362.2 L927.7,360.9 L929.7,359.5 L931.7,358.2 L933.7,356.9 L935.7,355.5 L937.7,354.2 L939.7,352.8 L941.7,351.5 L942.6,349.3 L943.4,347.0 L944.3,344.8 L945.2,342.6 L946.1,340.4 L947.0,338.2 L947.9,336.0 L948.8,333.7 L949.7,331.5 L950.6,329.3 L952.5,328.0 L954.4,326.6 L956.4,325.3 L958.3,323.9 L960.3,322.6 L962.2,321.3 L964.1,319.9 L966.1,318.6 L968.0,317.2 L969.9,315.8 L971.8,314.5 L972.7,312.3 L973.6,310.0 L974.5,307.8 L975.3,305.6 L976.2,303.4 L977.1,301.1 L977.9,298.9 L978.8,296.7 L979.7,294.5 L980.5,292.3 L981.4,290.0 L982.3,287.8 M898.8,432.6 L900.1,430.4 L901.4,428.2 L902.7,426.0 L904.0,423.7 L905.2,421.5 L906.5,419.3 L908.7,418.3 L910.8,417.3 L912.9,416.3 L915.1,415.3 L917.2,414.3 L919.3,413.3 L921.4,412.3 L922.6,410.3 L923.7,408.3 L924.9,406.3 L926.0,404.3 L927.2,402.3 L928.3,400.3 L929.4,398.3 L930.6,396.3 L932.8,395.2 L935.0,394.1 L937.2,393.0 L939.4,391.9 L941.6,390.8 L943.9,389.7 L946.1,388.6 L948.3,387.5 L949.5,385.3 L950.7,383.2 L951.9,381.0 L953.1,378.9 L954.2,376.8 L955.4,374.6 L956.6,372.5 L957.8,370.3 L959.0,368.2 L961.1,367.1 L963.2,366.0 L965.3,364.9 L967.4,363.8 L969.5,362.7 L971.6,361.6 L973.7,360.5 L975.8,359.4 L977.9,358.3 L979.9,357.2 L981.1,355.1 L982.2,353.0 L983.4,350.8 L984.5,348.7 L985.7,346.6 L986.8,344.5 L988.0,342.4 L989.1,340.2 L990.2,338.1 L991.4,336.0 L992.5,333.9 L994.6,332.7 L996.6,331.6 L998.7,330.5 L1000.8,329.3 L1002.8,328.2 L1004.9,327.1 L1006.9,325.9 L1009.0,324.8 L1011.0,323.6 L1013.1,322.4 L1015.1,321.3 L1017.2,320.1 M654.7,430.9 L655.8,429.4 L657.0,427.9 L658.1,426.4 L659.3,425.0 L660.5,423.5 L661.6,422.1 L662.9,420.7 L664.1,419.3 M628.8,409.8 L630.2,408.1 L631.5,406.3 L632.9,404.6 L634.3,402.9 L635.7,401.2 L637.1,399.5 L638.6,397.9 L640.0,396.3 M598.2,384.1 L599.3,382.7 L600.3,381.3 L601.4,380.0 L602.5,378.6 L603.6,377.3 L604.7,376.0 L605.8,374.6 L607.0,373.3 L608.1,372.0 L609.3,370.7 L610.4,369.5 L611.6,368.2 M562.1,352.4 L563.4,350.8 L564.7,349.2 L565.9,347.6 L567.3,346.0 L568.6,344.5 L569.9,342.9 L571.2,341.4 L572.6,339.9 L573.9,338.3 L575.3,336.9 L576.7,335.4 L578.1,333.9 M649.2,412.3 L650.7,410.4 L652.3,408.6 L654.0,406.8 L655.6,405.0 L657.3,403.3 L659.0,401.6 L660.7,399.9 L662.5,398.2 L664.2,396.6 L666.0,395.0 L667.8,393.4 L669.7,391.8 M622.3,387.5 L623.6,386.0 L624.9,384.6 L626.1,383.2 L627.5,381.8 L628.8,380.4 L630.1,379.0 L631.4,377.7 L632.8,376.3 L634.1,375.0 L635.5,373.6 L636.9,372.3 L638.3,371.0 L639.7,369.8 L641.1,368.5 L642.6,367.2 L644.0,366.0 L645.5,364.8 L646.9,363.5 M590.7,357.2 L592.2,355.5 L593.7,353.9 L595.2,352.2 L596.8,350.6 L598.3,349.0 L599.9,347.3 L601.5,345.8 L603.1,344.2 L604.8,342.6 L606.4,341.1 L608.1,339.6 L609.7,338.0 L611.4,336.6 L613.1,335.1 L614.8,333.6 L616.6,332.2 L618.3,330.7 L620.0,329.3 M676.1,407.2 L677.8,405.7 L679.5,404.2 L681.1,402.8 L682.8,401.4 L684.6,400.1 L686.3,398.7 L688.1,397.5 L689.9,396.2 L691.7,394.9 L693.5,393.7 L695.4,392.5 L697.2,391.4 M654.5,382.0 L655.8,380.8 L657.2,379.7 L658.5,378.6 L659.9,377.5 L661.2,376.4 L662.6,375.3 L664.0,374.3 L665.4,373.2 L666.8,372.2 L668.3,371.2 L669.7,370.3 L671.2,369.3 L672.7,368.4 L674.1,367.5 L675.6,366.6 L677.1,365.7 L678.6,364.8 L680.1,364.0 M628.9,351.5 L630.5,350.2 L632.1,348.8 L633.7,347.5 L635.3,346.2 L637.0,345.0 L638.6,343.7 L640.3,342.5 L642.0,341.4 L643.8,340.2 L645.5,339.1 L647.3,338.0 L649.0,336.9 L650.8,335.9 L652.6,334.9 L654.4,333.9 L656.2,332.9 L658.1,331.9 L659.9,331.0 M598.8,314.5 L600.7,312.9 L602.6,311.4 L604.4,309.9 L606.4,308.4 L608.4,306.9 L610.3,305.5 L612.4,304.1 L614.4,302.8 L616.5,301.5 L618.6,300.3 L620.7,299.0 L622.8,297.8 L625.0,296.7 L627.2,295.5 L629.3,294.4 L631.5,293.3 L633.7,292.3 L635.9,291.2 M684.7,380.9 L686.4,379.9 L688.2,378.8 L689.9,377.8 L691.7,376.8 L693.5,375.8 L695.3,374.9 L697.1,374.0 L699.0,373.1 L700.8,372.2 L702.7,371.4 L704.5,370.6 L706.4,369.8 L708.3,369.1 L710.2,368.4 M665.1,351.2 L667.3,350.0 L669.4,348.8 L671.5,347.7 L673.7,346.6 L675.9,345.5 L678.1,344.5 L680.3,343.6 L682.6,342.7 L684.8,341.8 L687.1,341.0 L689.4,340.2 L691.7,339.4 L694.0,338.7 L696.3,338.1 M642.0,315.3 L643.7,314.4 L645.4,313.5 L647.1,312.6 L648.9,311.8 L650.6,311.0 L652.3,310.2 L654.1,309.5 L655.9,308.7 M712.1,383.4 L713.8,382.7 L715.4,381.9 L717.1,381.2 L718.8,380.4 L720.5,379.7 L722.2,378.9 L723.9,378.2 L725.6,377.5 L727.3,376.9 L729.0,376.2 L730.8,375.6 L732.5,374.9 L734.3,374.4 L736.0,373.8 M698.3,355.7 L700.4,355.0 L702.5,354.3 L704.6,353.5 L706.5,352.6 L708.5,351.7 L710.5,350.8 L712.5,350.0 L714.6,349.2 L716.6,348.4 L718.6,347.6 L720.7,346.9 M726.9,361.5 L728.8,360.9 L730.7,360.2 L732.6,359.6 L734.5,359.0 L736.4,358.5 L738.3,357.9 L740.2,357.4 L742.2,356.9 L744.1,356.4 L746.0,356.0 L748.0,355.5 L749.9,355.1 M752.0,369.5 L753.7,369.2 L755.5,368.8 L757.3,368.5 L759.1,368.2 L760.9,367.9 L762.7,367.6 L764.5,367.4 L766.3,367.2 L768.1,367.0 L769.9,366.8 L771.7,366.6 L773.5,366.5 L775.3,366.4 L777.2,366.2 M793.4,366.2 L795.3,366.4 L797.1,366.5 L798.9,366.6 L800.7,366.8 L802.5,367.0 L804.3,367.2 L806.1,367.4 L807.9,367.6 L809.7,367.9 L811.5,368.2 L813.3,368.5 L815.1,368.8 L816.9,369.2 L818.6,369.5 M820.7,355.1 L822.6,355.5 L824.6,356.0 L826.5,356.4 L828.4,356.9 L830.4,357.4 L832.3,357.9 L834.2,358.5 L836.1,359.0 L838.0,359.6 L839.9,360.2 L841.8,360.9 L843.7,361.5 M834.6,373.8 L836.3,374.4 L838.1,374.9 L839.8,375.6 L841.6,376.2 L843.3,376.9 L845.0,377.5 L846.7,378.2 L848.4,378.9 L850.1,379.7 L851.8,380.4 L853.5,381.2 L855.2,381.9 L856.8,382.7 L858.5,383.4 M849.9,346.9 L852.0,347.6 L854.0,348.4 L856.0,349.2 L858.1,350.0 L860.1,350.8 L862.1,351.7 L864.1,352.6 L866.0,353.5 L868.1,354.3 L870.2,355.0 L872.3,355.7 M860.4,368.4 L862.3,369.1 L864.2,369.8 L866.1,370.6 L867.9,371.4 L869.8,372.2 L871.6,373.1 L873.5,374.0 L875.3,374.9 L877.1,375.8 L878.9,376.8 L880.7,377.8 L882.4,378.8 L884.2,379.9 L885.9,380.9 M874.3,338.1 L876.6,338.7 L878.9,339.4 L881.2,340.2 L883.5,341.0 L885.8,341.8 L888.0,342.7 L890.3,343.6 L892.5,344.5 L894.7,345.5 L896.9,346.6 L899.1,347.7 L901.2,348.8 L903.3,350.0 L905.5,351.2 M914.7,308.7 L916.5,309.5 L918.3,310.2 L920.0,311.0 L921.7,311.8 L923.5,312.6 L925.2,313.5 L926.9,314.4 L928.6,315.3 M873.4,391.4 L875.2,392.5 L877.1,393.7 L878.9,394.9 L880.7,396.2 L882.5,397.5 L884.3,398.7 L886.0,400.1 L887.8,401.4 L889.5,402.8 L891.1,404.2 L892.8,405.7 L894.5,407.2 M890.5,364.0 L892.0,364.8 L893.5,365.7 L895.0,366.6 L896.5,367.5 L897.9,368.4 L899.4,369.3 L900.9,370.3 L902.3,371.2 L903.8,372.2 L905.2,373.2 L906.6,374.3 L908.0,375.3 L909.4,376.4 L910.7,377.5 L912.1,378.6 L913.4,379.7 L914.8,380.8 L916.1,382.0 M910.7,331.0 L912.5,331.9 L914.4,332.9 L916.2,333.9 L918.0,334.9 L919.8,335.9 L921.6,336.9 L923.3,338.0 L925.1,339.1 L926.8,340.2 L928.6,341.4 L930.3,342.5 L932.0,343.7 L933.6,345.0 L935.3,346.2 L936.9,347.5 L938.5,348.8 L940.1,350.2 L941.7,351.5 M934.7,291.2 L936.9,292.3 L939.1,293.3 L941.3,294.4 L943.4,295.5 L945.6,296.7 L947.8,297.8 L949.9,299.0 L952.0,300.3 L954.1,301.5 L956.2,302.8 L958.2,304.1 L960.3,305.5 L962.2,306.9 L964.2,308.4 L966.2,309.9 L968.0,311.4 L969.9,312.9 L971.8,314.5 M900.9,391.8 L902.8,393.4 L904.6,395.0 L906.4,396.6 L908.1,398.2 L909.9,399.9 L911.6,401.6 L913.3,403.3 L915.0,405.0 L916.6,406.8 L918.3,408.6 L919.9,410.4 L921.4,412.3 M923.7,363.5 L925.1,364.8 L926.6,366.0 L928.0,367.2 L929.5,368.5 L930.9,369.8 L932.3,371.0 L933.7,372.3 L935.1,373.6 L936.5,375.0 L937.8,376.3 L939.2,377.7 L940.5,379.0 L941.8,380.4 L943.1,381.8 L944.5,383.2 L945.7,384.6 L947.0,386.0 L948.3,387.5 M950.6,329.3 L952.3,330.7 L954.0,332.2 L955.8,333.6 L957.5,335.1 L959.2,336.6 L960.9,338.0 L962.5,339.6 L964.2,341.1 L965.8,342.6 L967.5,344.2 L969.1,345.8 L970.7,347.3 L972.3,349.0 L973.8,350.6 L975.4,352.2 L976.9,353.9 L978.4,355.5 L979.9,357.2 M906.5,419.3 L907.7,420.7 L909.0,422.1 L910.1,423.5 L911.3,425.0 L912.5,426.4 L913.6,427.9 L914.8,429.4 L915.9,430.9 M930.6,396.3 L932.0,397.9 L933.5,399.5 L934.9,401.2 L936.3,402.9 L937.7,404.6 L939.1,406.3 L940.4,408.1 L941.8,409.8 M959.0,368.2 L960.2,369.5 L961.3,370.7 L962.5,372.0 L963.6,373.3 L964.8,374.6 L965.9,376.0 L967.0,377.3 L968.1,378.6 L969.2,380.0 L970.3,381.3 L971.3,382.7 L972.4,384.1 M992.5,333.9 L993.9,335.4 L995.3,336.9 L996.7,338.3 L998.0,339.9 L999.4,341.4 L1000.7,342.9 L1002.0,344.5 L1003.3,346.0 L1004.7,347.6 L1005.9,349.2 L1007.2,350.8 L1008.5,352.4 M541.8,333.8 L543.1,332.2 L544.4,330.6 L545.7,329.0 L547.0,327.5 L548.3,325.9 L549.6,324.4 L551.0,322.8 L552.4,321.3 L553.7,319.8 L555.1,318.3 L556.5,316.8 L557.9,315.3 L559.4,313.8 L560.8,312.4 L562.2,310.9 L563.7,309.5 L565.1,308.0 L566.6,306.6 L568.1,305.2 L569.6,303.8 L571.1,302.4 L572.6,301.0 L574.1,299.6 L575.7,298.3 L577.2,296.9 L578.8,295.6 L580.4,294.3 L581.9,293.0 L583.5,291.7 L585.1,290.4 L586.7,289.1 L588.3,287.8 L590.0,286.6 L591.6,285.4 L593.3,284.2 L595.0,283.0 L596.7,281.9 L598.5,280.8 L600.2,279.7 L602.0,278.7 L603.8,277.7 L605.6,276.6 L607.4,275.7 L609.2,274.7 L611.0,273.7 L612.9,272.8 L614.7,271.9 L616.6,271.0 L618.4,270.2 L620.3,269.3 L622.2,268.4 M948.4,268.4 L950.3,269.3 L952.2,270.2 L954.0,271.0 L955.9,271.9 L957.7,272.8 L959.6,273.7 L961.4,274.7 L963.2,275.7 L965.0,276.6 L966.8,277.7 L968.6,278.7 L970.4,279.7 L972.1,280.8 L973.9,281.9 L975.6,283.0 L977.3,284.2 L979.0,285.4 L980.6,286.6 L982.3,287.8 L983.9,289.1 L985.5,290.4 L987.1,291.7 L988.7,293.0 L990.2,294.3 L991.8,295.6 L993.4,296.9 L994.9,298.3 L996.5,299.6 L998.0,301.0 L999.5,302.4 L1001.0,303.8 L1002.5,305.2 L1004.0,306.6 L1005.5,308.0 L1006.9,309.5 L1008.4,310.9 L1009.8,312.4 L1011.2,313.8 L1012.7,315.3 L1014.1,316.8 L1015.5,318.3 L1016.9,319.8 L1018.2,321.3 L1019.6,322.8 L1021.0,324.4 L1022.3,325.9 L1023.6,327.5 L1024.9,329.0 L1026.2,330.6 L1027.5,332.2 L1028.8,333.8 M666.1,439.9 L664.1,438.3 L662.1,436.7 L660.0,435.1 L658.0,433.5 L656.0,431.8 L653.9,430.2 L651.9,428.6 L649.9,427.0 L647.9,425.4 L645.8,423.7 L643.8,422.1 L641.8,420.5 L639.8,418.8 L637.8,417.2 L635.8,415.6 L633.8,413.9 L631.8,412.3 L629.8,410.6 L627.8,409.0 L625.8,407.3 L623.8,405.7 L621.8,404.0 L619.8,402.3 L617.8,400.7 L615.8,399.0 L613.8,397.4 L611.8,395.7 L609.9,394.0 L607.9,392.3 L605.9,390.7 L603.9,389.0 L601.9,387.3 L600.0,385.6 L598.0,383.9 L596.0,382.2 L594.1,380.5 L592.1,378.8 L590.2,377.1 L588.2,375.4 L586.2,373.7 L584.3,372.0 L582.3,370.3 L580.4,368.6 L578.4,366.9 L576.5,365.2 L574.5,363.4 L572.6,361.7 L570.7,360.0 L568.7,358.3 L566.8,356.5 L564.8,354.8 L562.9,353.1 L561.0,351.3 L559.1,349.6 L557.1,347.8 L555.2,346.1 L553.3,344.3 L551.4,342.6 L549.5,340.8 L547.5,339.1 L545.6,337.3 L543.7,335.6 L541.8,333.8 M904.5,439.9 L906.5,438.3 L908.5,436.7 L910.6,435.1 L912.6,433.5 L914.6,431.8 L916.7,430.2 L918.7,428.6 L920.7,427.0 L922.7,425.4 L924.8,423.7 L926.8,422.1 L928.8,420.5 L930.8,418.8 L932.8,417.2 L934.8,415.6 L936.8,413.9 L938.8,412.3 L940.8,410.6 L942.8,409.0 L944.8,407.3 L946.8,405.7 L948.8,404.0 L950.8,402.3 L952.8,400.7 L954.8,399.0 L956.8,397.4 L958.8,395.7 L960.7,394.0 L962.7,392.3 L964.7,390.7 L966.7,389.0 L968.7,387.3 L970.6,385.6 L972.6,383.9 L974.6,382.2 L976.5,380.5 L978.5,378.8 L980.4,377.1 L982.4,375.4 L984.4,373.7 L986.3,372.0 L988.3,370.3 L990.2,368.6 L992.2,366.9 L994.1,365.2 L996.1,363.4 L998.0,361.7 L999.9,360.0 L1001.9,358.3 L1003.8,356.5 L1005.8,354.8 L1007.7,353.1 L1009.6,351.3 L1011.5,349.6 L1013.5,347.8 L1015.4,346.1 L1017.3,344.3 L1019.2,342.6 L1021.1,340.8 L1023.1,339.1 L1025.0,337.3 L1026.9,335.6 L1028.8,333.8" fill="none" stroke="#0b0898" stroke-width="2.9" stroke-linejoin="round" stroke-linecap="round"/>
<path d="M666.1,439.9 L667.1,438.6 L668.0,437.4 L669.0,436.1 L670.0,434.9 L671.0,433.6 L672.0,432.4 L673.0,431.2 L674.0,430.0 L675.1,428.8 L676.1,427.6 L677.2,426.5 L678.3,425.3 L679.4,424.2 L680.4,423.1 L681.6,422.0 L682.7,420.8 L683.8,419.8 L685.0,418.7 L686.1,417.6 L687.3,416.6 L688.5,415.5 L689.6,414.5 L690.8,413.5 L692.0,412.5 L693.3,411.5 L694.5,410.6 L695.7,409.6 L697.0,408.7 L698.2,407.8 L699.5,406.8 L700.8,405.9 L702.0,405.1 L703.3,404.2 L704.6,403.3 L705.9,402.5 L707.2,401.7 L708.6,400.8 L709.9,400.0 L711.2,399.3 L712.6,398.5 L713.9,397.7 L715.3,397.0 L716.6,396.3 L718.0,395.6 L719.4,394.9 L720.8,394.2 L722.1,393.5 L723.5,392.9 L724.9,392.2 L726.3,391.6 L727.8,391.0 L729.2,390.4 L730.6,389.8 L732.0,389.3 L733.5,388.7 L734.9,388.2 L736.3,387.7 L737.8,387.2 L739.2,386.7 L740.7,386.2 L742.1,385.8 L743.6,385.3 L745.1,384.9 L746.5,384.5 L748.0,384.1 L749.5,383.7 L750.9,383.4 L752.4,383.0 L753.9,382.7 L755.4,382.4 L756.9,382.1 L758.4,381.8 L759.9,381.5 L761.3,381.3 L762.8,381.0 L764.3,380.8 L765.8,380.6 L767.3,380.4 L768.8,380.2 L770.3,380.1 L771.8,379.9 L773.3,379.8 L774.8,379.7 L776.3,379.6 L777.8,379.5 L779.3,379.4 L780.8,379.4 L782.3,379.3 L783.8,379.3 L785.3,379.3 L786.8,379.3 L788.3,379.3 L789.8,379.4 L791.3,379.4 L792.8,379.5 L794.3,379.6 L795.8,379.7 L797.3,379.8 L798.8,379.9 L800.3,380.1 L801.8,380.2 L803.3,380.4 L804.8,380.6 L806.3,380.8 L807.8,381.0 L809.3,381.3 L810.7,381.5 L812.2,381.8 L813.7,382.1 L815.2,382.4 L816.7,382.7 L818.2,383.0 L819.7,383.4 L821.1,383.7 L822.6,384.1 L824.1,384.5 L825.5,384.9 L827.0,385.3 L828.5,385.8 L829.9,386.2 L831.4,386.7 L832.8,387.2 L834.3,387.7 L835.7,388.2 L837.1,388.7 L838.6,389.3 L840.0,389.8 L841.4,390.4 L842.8,391.0 L844.3,391.6 L845.7,392.2 L847.1,392.9 L848.5,393.5 L849.8,394.2 L851.2,394.9 L852.6,395.6 L854.0,396.3 L855.3,397.0 L856.7,397.7 L858.0,398.5 L859.4,399.3 L860.7,400.0 L862.0,400.8 L863.4,401.7 L864.7,402.5 L866.0,403.3 L867.3,404.2 L868.6,405.1 L869.8,405.9 L871.1,406.8 L872.4,407.8 L873.6,408.7 L874.9,409.6 L876.1,410.6 L877.3,411.5 L878.6,412.5 L879.8,413.5 L881.0,414.5 L882.1,415.5 L883.3,416.6 L884.5,417.6 L885.6,418.7 L886.8,419.8 L887.9,420.8 L889.0,422.0 L890.2,423.1 L891.2,424.2 L892.3,425.3 L893.4,426.5 L894.5,427.6 L895.5,428.8 L896.6,430.0 L897.6,431.2 L898.6,432.4 L899.6,433.6 L900.6,434.9 L901.6,436.1 L902.6,437.4 L903.5,438.6 L904.5,439.9" fill="none" stroke="#0b0898" stroke-width="5.0" stroke-linejoin="round" stroke-linecap="round"/>
<path d="M691.5,332.9 L690.0,331.1 L688.4,329.4 L686.8,327.6 L685.2,325.9 L683.6,324.1 L682.1,322.4 L681.8,320.3 L681.6,318.2 L681.4,316.1 M726.9,348.9 L726.8,346.9 L726.8,344.8 L725.5,342.9 L724.1,341.1 M753.6,356.5 L753.8,354.4 L752.8,352.5 L751.8,350.7 M773.9,358.1 L773.1,356.1 L772.3,354.1 M796.7,358.1 L797.5,356.1 L798.3,354.1 M817.0,356.5 L816.8,354.4 L817.8,352.5 L818.8,350.7 M843.7,348.9 L843.8,346.9 L843.8,344.8 L845.1,342.9 L846.5,341.1 M879.1,332.9 L880.6,331.1 L882.2,329.4 L883.8,327.6 L885.4,325.9 L887.0,324.1 L888.5,322.4 L888.8,320.3 L889.0,318.2 L889.2,316.1 M655.9,308.7 L657.7,308.0 L659.5,307.4 L661.3,306.7 L663.1,306.1 L664.9,305.5 L666.8,304.9 M720.7,346.9 L722.7,346.1 L724.8,345.4 L726.8,344.8 M682.1,322.4 L683.7,321.9 L685.4,321.4 L687.1,321.0 M749.9,355.1 L751.9,354.7 L753.8,354.4 M816.8,354.4 L818.7,354.7 L820.7,355.1 M843.8,344.8 L845.8,345.4 L847.9,346.1 L849.9,346.9 M883.5,321.0 L885.2,321.4 L886.9,321.9 L888.5,322.4 M903.8,304.9 L905.7,305.5 L907.5,306.1 L909.3,306.7 L911.1,307.4 L912.9,308.0 L914.7,308.7 M622.2,268.4 L624.0,267.6 L625.9,266.8 L627.9,266.1 L629.8,265.4 M940.8,265.4 L942.7,266.1 L944.7,266.8 L946.6,267.6 L948.4,268.4" fill="none" stroke="#1444b4" stroke-width="2.9" stroke-linejoin="round" stroke-linecap="round"/>
<path d="M681.4,316.1 L681.1,314.0 L680.9,311.9 L680.7,309.8 L680.4,307.8 L680.2,305.7 L680.0,303.7 M724.1,341.1 L722.8,339.2 L721.4,337.4 L720.1,335.5 L718.7,333.7 L717.4,331.9 L716.0,330.0 L716.0,327.8 M751.8,350.7 L750.8,348.9 L749.8,347.1 L748.8,345.3 L749.2,345.2 L749.4,345.3 L749.0,345.2 L748.8,344.7 L747.4,343.5 M772.3,354.1 L771.5,352.1 L772.0,350.0 M798.3,354.1 L799.1,352.1 L798.6,350.0 M818.8,350.7 L819.8,348.9 L820.8,347.1 L821.9,345.3 L823.2,345.1 L823.7,345.0 L823.4,345.3 L820.5,345.9 L817.4,346.5 L815.0,346.8 M846.5,341.1 L847.8,339.2 L849.2,337.4 L850.5,335.5 L851.9,333.7 L853.2,331.9 L854.6,330.0 L854.6,327.8 M889.2,316.1 L889.5,314.0 L889.7,311.9 L889.9,309.8 L890.2,307.8 L890.4,305.7 L890.6,303.7 M666.8,304.9 L668.6,304.4 L670.5,303.9 L672.3,303.4 L674.2,302.9 L676.0,302.5 L677.9,302.0 M687.1,321.0 L688.8,320.6 L690.4,319.8 L691.9,319.1 L693.5,318.4 L695.1,317.8 L696.7,317.1 L698.2,316.4 M716.0,330.0 L718.3,329.4 M749.0,345.2 L751.3,345.3 M771.5,352.1 L773.5,351.9 L775.5,351.8 L777.4,351.7 L779.4,351.6 L781.4,351.6 L783.3,351.5 L785.3,351.5 L787.3,351.5 L789.2,351.6 L791.2,351.6 L793.2,351.7 L795.1,351.8 L797.1,351.9 L799.1,352.1 M820.6,344.9 L823.4,345.3 M822.1,343.4 L824.4,345.6 L826.1,346.3 L827.1,345.6 L827.6,343.3 M852.1,329.4 L854.6,330.0 M872.4,316.4 L873.9,317.1 L875.5,317.8 L877.1,318.4 L878.7,319.1 L880.2,319.8 L881.8,320.6 L883.5,321.0 M892.7,302.0 L894.6,302.5 L896.4,302.9 L898.3,303.4 L900.1,303.9 L902.0,304.4 L903.8,304.9 M629.8,265.4 L631.7,264.7 L633.7,264.0 L635.6,263.4 L637.6,262.8 L639.6,262.2 L641.6,261.6 M929.0,261.6 L931.0,262.2 L933.0,262.8 L935.0,263.4 L936.9,264.0 L938.9,264.7 L940.8,265.4" fill="none" stroke="#1880bc" stroke-width="2.9" stroke-linejoin="round" stroke-linecap="round"/>
<path d="M680.0,303.7 L679.8,301.6 L678.2,299.9 L676.7,298.1 L675.1,296.4 L673.6,294.6 L672.0,292.9 L670.5,291.1 L668.9,289.3 L667.4,287.6 L665.8,285.8 L664.3,284.0 L662.7,282.3 L662.5,280.2 L662.3,278.1 L662.1,276.1 L661.9,274.0 L661.7,272.0 M716.0,327.8 L716.3,326.6 L716.9,325.5 L717.9,324.3 L719.1,323.1 L720.1,322.3 L720.6,322.3 L720.6,323.1 L720.3,323.9 L718.9,322.7 L717.0,320.7 L714.7,318.5 L712.2,316.7 L709.8,315.9 L707.7,316.1 L706.4,317.1 L706.0,318.3 L706.5,318.9 L707.7,318.6 L711.0,317.1 M747.4,343.5 L745.7,341.7 L744.5,339.8 L744.9,338.4 L747.1,337.9 M751.9,339.4 L751.0,339.7 L749.3,339.0 L746.8,337.0 M772.0,350.0 L772.5,348.0 L773.9,346.6 M778.1,346.0 L773.6,346.9 L768.6,347.0 L764.1,346.0 L762.3,344.1 M768.9,345.1 L767.3,345.1 M798.6,350.0 L798.1,348.0 L798.0,347.4 L798.1,348.2 L797.6,348.9 L796.3,348.9 L794.5,347.9 L792.3,345.9 M815.0,346.8 L814.0,346.7 L815.0,346.1 L817.8,344.4 L820.6,342.6 L822.5,341.0 L822.8,339.9 L821.9,339.2 L820.9,339.3 L820.6,340.1 L821.3,341.3 L822.9,342.3 L824.9,342.7 L826.7,341.9 L827.8,339.8 L828.4,339.9 L829.0,339.3 L829.3,338.0 L829.4,336.4 L829.2,334.7 M854.6,327.8 L853.6,327.0 L853.6,326.8 L854.2,326.7 L854.5,326.8 L854.0,326.8 L852.4,326.4 L850.4,325.5 L849.0,324.6 L849.7,323.0 L851.9,321.7 L854.9,321.0 L858.0,320.6 L860.3,320.3 L861.5,319.6 L861.6,318.3 L861.1,316.1 L860.6,313.0 M890.6,303.7 L890.8,301.6 L892.4,299.9 L893.9,298.1 L895.5,296.4 L897.0,294.6 L898.6,292.9 L900.1,291.1 L901.7,289.3 L903.2,287.6 L904.8,285.8 L906.3,284.0 L907.9,282.3 L908.1,280.2 L908.3,278.1 L908.5,276.1 L908.7,274.0 L908.9,272.0 M677.9,302.0 L679.8,301.6 M698.2,316.4 L699.8,315.8 L701.4,315.1 L703.0,314.5 L706.0,314.7 L710.2,315.7 L713.5,316.3 M718.4,319.9 L719.3,321.9 L720.3,323.9 M662.7,282.3 L664.8,281.8 L666.8,281.4 L668.9,281.0 L671.0,280.6 M718.3,329.4 L721.3,330.8 L724.4,332.0 L727.0,332.9 L729.2,333.3 L730.9,333.3 L732.4,333.2 L734.2,333.0 L736.5,333.2 L739.4,333.7 M707.7,318.6 L710.5,318.1 L712.9,317.1 M751.3,345.3 L753.4,344.8 L755.3,344.0 L757.1,343.0 L758.9,342.1 M771.8,345.8 L774.0,346.6 L776.2,346.6 M792.3,345.9 L795.5,347.6 L799.0,348.3 L802.4,348.0 L805.5,346.5 L808.1,344.4 L810.1,342.1 M814.7,340.4 L816.2,342.1 L818.2,343.7 L820.6,344.9 M819.2,340.3 L822.1,343.4 M827.6,343.3 L827.8,339.8 M822.5,341.0 L822.1,341.2 L822.0,341.1 L822.8,340.6 L824.5,339.4 L827.1,337.1 L830.2,333.9 M843.8,327.4 L847.4,328.9 L852.1,329.4 M850.3,320.7 L853.0,321.4 L855.3,321.1 L857.1,319.6 L858.5,317.0 M849.0,324.6 L850.1,323.3 L851.3,321.6 L852.8,319.7 M855.4,318.1 L858.5,316.8 L861.9,315.7 L865.3,314.6 L867.6,314.5 L869.2,315.1 L870.8,315.8 L872.4,316.4 M899.6,280.6 L901.7,281.0 L903.8,281.4 L905.8,281.8 L907.9,282.3 M890.8,301.6 L892.7,302.0 M641.6,261.6 L643.6,261.1 L645.6,260.6 L647.6,260.2 L649.6,259.7 L651.6,259.3 M919.0,259.3 L921.0,259.7 L923.0,260.2 L925.0,260.6 L927.0,261.1 L929.0,261.6" fill="none" stroke="#18a4b8" stroke-width="2.9" stroke-linejoin="round" stroke-linecap="round"/>
<path d="M661.7,272.0 L661.5,270.0 L661.3,267.9 L661.1,265.9 L660.8,263.9 L660.6,261.8 L660.4,259.8 L660.2,257.8 M711.0,317.1 L713.3,314.9 L714.4,312.5 L714.5,310.2 L714.0,308.4 L713.5,307.5 L713.4,307.5 L714.0,308.3 L715.4,309.6 L717.5,311.0 L719.6,312.2 L718.8,313.3 L717.5,313.5 L716.1,312.2 L714.7,309.4 M747.1,337.9 L750.0,338.1 L752.3,338.4 L752.4,338.2 L752.3,338.6 L751.9,339.4 M746.8,337.0 L743.8,333.7 L740.3,329.6 L736.9,325.5 M773.9,346.6 L776.4,345.8 L778.7,345.2 L780.1,345.1 L779.9,345.4 L778.1,346.0 M762.3,344.1 L762.7,342.3 L764.9,341.2 L768.1,340.9 L771.5,341.2 M777.0,341.1 L775.0,342.6 L771.8,344.1 L768.9,345.1 M767.3,345.1 L767.9,343.8 L770.9,341.3 M792.3,345.9 L791.8,344.2 L791.1,342.2 M791.0,341.8 L793.2,342.5 L796.1,342.5 L797.7,342.5 L798.9,342.5 L799.5,342.3 L799.5,341.8 L798.9,340.7 M829.2,334.7 L828.8,333.2 L828.1,332.2 L827.2,331.8 L826.1,332.0 L824.7,332.6 L825.5,332.6 L825.3,331.4 L824.0,329.0 M860.6,313.0 L860.8,309.5 L860.8,308.6 L861.0,307.6 L861.5,306.7 L861.8,306.1 L861.8,305.7 L861.1,305.6 L859.8,305.4 M908.9,272.0 L909.1,270.0 L909.3,267.9 L909.5,265.9 L909.8,263.9 L910.0,261.8 L910.2,259.8 L910.4,257.8 M713.5,316.3 L715.9,317.1 L717.6,318.1 L718.4,319.9 M671.0,280.6 L672.8,279.8 L674.6,278.9 L676.5,278.1 L678.9,277.7 M692.5,289.1 L694.0,293.6 L696.0,298.3 L698.6,302.8 L701.9,306.7 L706.0,309.7 L710.6,311.6 L715.3,312.4 L719.6,312.2 M739.4,333.7 L742.5,334.5 L745.9,335.6 L749.2,336.9 L752.3,338.4 M712.9,317.1 L715.1,315.9 L717.1,314.6 L719.2,313.6 L721.5,312.9 M758.9,342.1 L760.8,341.6 L762.8,341.6 L764.9,342.2 L767.1,343.3 L769.4,344.6 L771.8,345.8 M776.2,346.6 L778.1,346.0 M736.9,325.5 L738.5,326.6 L740.3,327.9 L742.1,329.3 L743.9,330.8 L745.6,332.1 L747.2,333.1 L748.7,333.8 L749.9,334.1 L751.1,334.3 L752.1,334.2 L753.2,334.2 L754.3,334.4 M757.1,335.6 L758.8,336.7 L760.7,338.1 L762.7,339.5 L764.9,340.7 L766.9,341.6 L769.0,341.8 L770.9,341.3 M793.6,342.4 L793.7,343.2 L794.4,343.1 L796.1,342.5 M810.1,342.1 L811.6,340.2 L812.6,339.2 L813.6,339.3 L814.7,340.4 M815.8,336.7 L819.2,340.3 M830.2,333.9 L833.4,330.3 L836.2,327.4 L838.6,326.0 L841.0,326.1 L843.8,327.4 M824.7,332.6 L828.4,332.1 L831.6,331.3 L834.3,330.1 L836.2,328.5 L837.4,326.6 L838.0,324.4 L838.1,322.0 M844.7,318.1 L847.5,319.5 L850.3,320.7 M858.5,317.0 L859.7,313.5 L860.8,309.5 M852.8,319.7 L855.4,318.1 M867.3,299.3 L870.1,297.7 L873.6,295.5 L877.7,292.8 L882.4,289.8 L887.6,285.3 L891.9,278.8 L894.1,278.1 L896.0,278.9 L897.8,279.8 L899.6,280.6 M651.6,259.3 L653.7,258.9 L655.7,258.5 L657.7,258.2 L659.8,257.9 L661.7,257.3 L663.8,257.1 M906.8,257.1 L908.9,257.3 L910.8,257.9 L912.9,258.2 L914.9,258.5 L916.9,258.9 L919.0,259.3" fill="none" stroke="#1eaca4" stroke-width="2.9" stroke-linejoin="round" stroke-linecap="round"/>
<path d="M714.7,309.4 L713.5,305.4 L712.5,300.8 L711.7,296.3 L709.6,295.0 L707.6,293.8 L705.7,292.7 L703.5,291.3 L700.8,289.6 M736.9,325.5 L736.0,322.8 L737.1,321.0 L740.0,320.3 M749.9,326.1 L747.8,325.2 L745.4,324.1 L743.8,322.0 M741.9,320.9 L739.1,319.6 L736.5,317.3 M771.5,341.2 L775.2,340.3 L777.2,340.3 L777.0,341.1 M770.9,341.3 L773.6,338.6 L776.3,335.4 M771.1,335.0 L768.8,336.2 L767.1,336.6 L766.7,335.9 L767.8,334.1 M791.1,342.2 L790.1,340.7 L789.7,340.3 L789.9,340.8 L791.0,341.8 M798.9,340.7 L798.1,338.9 L797.0,336.7 M803.2,334.4 L806.3,333.3 M824.0,329.0 L822.3,325.7 M859.8,305.4 L857.8,305.1 L855.5,304.4 L853.2,303.3 L851.3,301.8 M860.2,295.4 L863.6,293.5 L865.9,292.1 L867.0,291.4 L867.2,291.3 L867.2,291.3 L868.1,292.1 L869.9,292.7 L872.4,292.4 L875.0,291.4 M678.9,277.7 L683.6,277.7 L686.6,279.0 L689.3,281.5 L691.0,284.9 L692.5,289.1 M721.5,312.9 L724.1,312.8 L727.1,313.2 L730.5,314.1 L734.0,315.5 L737.4,317.1 M746.6,324.0 L747.2,325.2 L747.4,326.0 L747.2,326.4 L747.0,326.4 L747.2,326.0 L747.8,325.2 M754.3,334.4 L755.6,334.9 L757.1,335.6 M771.5,341.2 L773.6,337.9 L776.1,334.5 M793.4,338.0 L793.7,340.6 L793.6,342.4 M771.1,335.0 L770.7,336.4 L770.8,337.0 L771.5,336.5 L773.0,335.2 M797.2,336.7 L797.6,337.6 L797.8,337.5 L797.8,336.3 M808.8,330.3 L812.3,333.2 L815.8,336.7 M816.4,329.0 L817.9,328.5 L819.9,326.0 M838.1,322.0 L838.2,319.9 L838.4,318.1 L839.1,316.9 L840.4,316.5 L842.3,317.0 L844.7,318.1 M854.7,299.9 L857.5,299.2 L859.9,299.4 L861.8,300.0 L863.5,300.4 L865.2,300.2 L867.3,299.3 M663.8,257.1 L667.0,259.4 L670.6,263.0 L674.4,267.0 L678.0,270.6 L681.3,273.7 L684.4,276.5 L687.3,279.0 L690.1,281.3 L692.8,283.3 L695.3,285.2 L697.8,287.0 L700.2,288.6 L702.5,290.1 L704.8,291.6 L707.0,292.9 L709.2,294.2 L711.3,295.3 M859.3,295.3 L861.4,294.2 L863.6,292.9 L865.8,291.6 L868.1,290.1 L870.4,288.6 L872.8,287.0 L875.3,285.2 L877.8,283.3 L880.5,281.3 L883.3,279.0 L886.2,276.5 L889.3,273.7 L892.6,270.6 L896.2,267.0 L900.0,263.0 L903.6,259.4 L906.8,257.1" fill="none" stroke="#2aac78" stroke-width="2.9" stroke-linejoin="round" stroke-linecap="round"/>
<path d="M740.0,320.3 L743.8,320.8 L747.7,322.1 L750.5,323.8 L751.8,325.3 L751.5,326.1 L749.9,326.1 M743.8,322.0 L743.2,319.1 L743.4,315.8 M746.3,316.3 L744.9,318.5 L745.1,320.1 L744.0,321.0 L741.9,320.9 M736.5,317.3 L734.9,314.3 L734.6,311.1 L735.7,308.3 M776.3,335.4 L778.5,332.4 L779.9,330.3 M777.7,331.2 L775.6,332.9 L773.2,334.4 L771.1,335.0 M767.8,334.1 L770.1,331.3 L773.0,328.1 M797.0,336.7 L796.0,334.3 L795.2,332.0 L795.9,332.6 L797.5,333.6 L800.0,334.3 L803.2,334.4 M806.3,333.3 L808.5,331.2 L809.1,328.4 L807.9,325.4 M822.3,325.7 L820.9,322.0 L820.4,318.6 M828.8,313.1 L827.5,315.3 L826.0,317.0 L824.8,317.8 L824.0,317.5 M851.3,301.8 L853.1,299.2 L856.5,297.4 L860.2,295.4 M737.4,317.1 L740.6,318.9 L743.3,320.8 L745.3,322.5 L746.6,324.0 M744.9,318.5 L748.5,318.0 M776.1,334.5 L778.9,331.6 M790.6,332.1 L792.4,335.0 L793.4,338.0 M773.0,335.2 L775.2,333.2 L777.9,330.8 M795.2,332.0 L796.4,334.7 L797.2,336.7 M797.8,336.3 L797.9,334.4 L798.3,332.1 L799.2,329.9 M802.9,327.8 L805.6,328.5 L808.8,330.3 M814.4,324.4 L815.4,327.5 L816.4,329.0 M819.9,326.0 L822.4,322.0 L825.5,317.4 L828.8,313.1 M851.3,301.8 L854.7,299.9 M711.3,295.3 L713.3,296.4 L715.3,297.5 L717.3,298.5 L719.2,299.4 L721.1,300.3 L723.0,301.2 L724.8,302.0 L726.7,302.7 L728.5,303.5 L730.2,304.2 M840.4,304.2 L842.1,303.5 L843.9,302.7 L845.8,302.0 L847.6,301.2 L849.5,300.3 L851.4,299.4 L853.3,298.5 L855.3,297.5 L857.3,296.4 L859.3,295.3" fill="none" stroke="#5cae40" stroke-width="2.9" stroke-linejoin="round" stroke-linecap="round"/>
<path d="M743.4,315.8 L744.3,312.9 L745.4,311.0 L746.5,310.6 L747.1,311.6 L747.0,313.8 L746.3,316.3 M735.7,308.3 L737.7,307.3 L740.0,308.1 L742.6,308.8 L744.7,309.4 M779.9,330.3 L780.2,329.5 L779.4,329.9 L777.7,331.2 M773.0,328.1 L775.6,325.2 M771.5,324.3 L770.2,325.9 L768.9,327.2 L767.9,327.5 L767.0,326.5 L766.5,324.0 L766.3,320.4 M807.9,325.4 L805.4,322.8 M792.4,326.1 L791.2,328.7 L791.0,330.6 L791.7,331.4 L793.0,330.8 L794.5,328.8 L795.9,325.9 M820.4,318.6 L821.1,315.9 L822.9,314.1 L825.3,313.4 L827.4,313.2 L828.8,313.1 M824.0,317.5 L823.8,316.2 L824.3,314.2 L825.2,312.0 L826.5,309.8 L828.0,308.8 L829.2,308.5 L829.8,308.3 L830.0,309.2 M748.5,318.0 L751.3,317.0 L753.2,315.8 L754.1,314.7 M752.5,314.2 L751.6,315.1 L751.2,316.3 L751.6,317.8 L753.0,319.1 L755.2,320.0 L758.3,320.6 L761.9,320.7 M778.9,331.6 L782.0,329.7 L785.2,329.1 L788.2,330.0 L790.6,332.1 M777.9,330.8 L780.9,328.4 L784.0,326.3 M793.4,325.8 L793.9,326.9 L794.4,327.6 L795.0,327.9 L795.8,327.5 L797.0,326.4 L798.6,324.7 L800.4,322.9 M799.2,329.9 L800.7,328.4 L802.9,327.8 M811.6,316.3 L813.2,320.4 L814.4,324.4 M730.2,304.2 L732.0,304.8 L733.7,305.5 L735.4,306.0 L737.1,306.6 L738.7,307.2 L740.4,307.7 L742.0,308.2 L743.6,308.6 L745.2,309.1 M825.4,309.1 L827.0,308.6 L828.6,308.2 L830.2,307.7 L831.9,307.2 L833.5,306.6 L835.2,306.0 L836.9,305.5 L838.6,304.8 L840.4,304.2" fill="none" stroke="#a8b42a" stroke-width="2.9" stroke-linejoin="round" stroke-linecap="round"/>
<path d="M775.6,325.2 L777.0,322.9 L777.0,321.7 L775.8,321.6 L774.0,322.4 L772.8,323.0 L771.5,324.3 M766.3,320.4 L766.4,316.1 M805.4,322.8 L802.3,321.0 L798.2,321.7 L794.8,323.6 L792.4,326.1 M795.9,325.9 L797.1,322.4 L797.8,319.1 M804.5,316.8 L806.9,317.0 L808.3,316.2 L808.2,314.4 M754.1,314.7 L754.1,314.0 L753.5,313.8 L752.5,314.2 M761.9,320.7 L765.6,320.4 L769.1,320.0 L771.9,319.7 L773.9,319.6 L774.8,320.1 L774.8,321.0 L774.0,322.4 M784.0,326.3 L786.8,324.9 L789.2,324.1 L791.1,324.2 L792.5,324.8 L793.4,325.8 M800.4,322.9 L802.3,321.0 M797.8,319.1 L797.6,319.9 L797.0,320.3 L796.2,320.2 L795.7,319.3 M809.5,313.0 L811.6,316.3 M745.2,309.1 L746.8,309.5 L748.4,309.9 L749.9,310.3 L751.5,310.6 L753.0,311.0 L754.6,311.3 L756.1,311.6 L757.6,311.9 L759.1,312.1 M811.5,312.1 L813.0,311.9 L814.5,311.6 L816.0,311.3 L817.6,311.0 L819.1,310.6 L820.7,310.3 L822.2,309.9 L823.8,309.5 L825.4,309.1" fill="none" stroke="#d6a41c" stroke-width="2.9" stroke-linejoin="round" stroke-linecap="round"/>
<path d="M766.4,316.1 L766.8,313.8 L767.4,313.9 L768.5,314.0 M797.8,319.1 L797.9,316.6 L797.5,314.7 L797.3,314.4 L797.7,314.4 L799.1,314.5 L801.6,315.8 L804.5,316.8 M808.2,314.4 L807.2,313.3 L806.0,313.5 M795.7,319.3 L795.8,317.5 L796.7,315.3 L798.7,314.3 L801.3,314.1 L804.3,313.7 L807.2,313.3 L809.5,313.0 M759.1,312.1 L760.6,312.4 L762.1,312.6 L763.6,312.9 L765.0,313.1 L766.5,313.2 L768.0,313.4 L769.4,313.6 L770.9,313.7 L772.3,313.9 L773.8,314.0 L775.2,314.1 L776.7,314.2 L778.1,314.2 L779.6,314.3 L781.0,314.3 L782.4,314.4 L783.9,314.4 L785.3,314.4 L786.7,314.4 L788.2,314.4 L789.6,314.3 L791.0,314.3 L792.5,314.2 L793.9,314.2 L795.4,314.1 L796.8,314.0 L798.3,313.9 L799.7,313.7 L801.2,313.6 L802.6,313.4 L804.1,313.2 L805.6,313.1 L807.0,312.9 L808.5,312.6 L810.0,312.4 L811.5,312.1" fill="none" stroke="#de7c18" stroke-width="2.9" stroke-linejoin="round" stroke-linecap="round"/>
<path d="M1212.1,453.6 L1210.9,451.5 L1209.7,449.3 L1208.5,447.2 L1207.2,445.1 L1206.0,443.0 L1204.8,440.9 L1202.8,439.9 L1200.8,438.9 L1198.7,438.0 L1196.7,437.0 L1194.7,436.0 L1192.6,435.0 L1190.6,434.0 L1189.5,432.1 L1188.4,430.2 L1187.4,428.3 L1186.3,426.4 L1185.2,424.5 L1184.2,422.6 L1183.1,420.7 L1182.0,418.8 L1179.9,417.7 L1177.8,416.6 L1175.7,415.6 L1173.6,414.5 L1171.4,413.4 L1169.3,412.4 L1167.2,411.3 L1165.1,410.2 L1164.0,408.2 L1162.9,406.1 L1161.7,404.1 L1160.6,402.0 L1159.5,400.0 L1158.4,398.0 L1157.3,395.9 L1156.2,393.9 L1155.1,391.8 L1153.0,390.8 L1151.0,389.7 L1149.0,388.7 L1147.0,387.6 L1145.0,386.5 L1143.0,385.5 L1141.0,384.4 L1139.0,383.3 L1137.0,382.2 L1135.0,381.1 L1133.9,379.1 L1132.8,377.1 L1131.8,375.1 L1130.7,373.1 L1129.6,371.1 L1128.6,369.1 L1127.5,367.0 L1126.5,365.0 L1125.4,363.0 L1124.3,361.0 L1123.3,359.0 L1121.3,357.9 L1119.3,356.8 L1117.3,355.7 L1115.3,354.6 L1113.4,353.5 L1111.4,352.3 M1103.5,347.8 L1101.5,346.7 L1099.6,345.5 M1228.5,437.1 L1226.5,435.8 L1224.5,434.5 L1222.5,433.2 L1220.4,432.0 L1218.4,430.7 L1216.4,429.4 L1215.6,427.3 L1214.7,425.2 L1213.8,423.1 L1212.9,421.0 L1212.1,418.9 L1211.2,416.8 L1210.3,414.7 L1208.5,413.6 L1206.7,412.4 L1204.9,411.2 L1203.2,410.1 L1201.4,408.9 L1199.6,407.7 L1197.8,406.5 L1196.0,405.4 L1195.1,403.2 M1186.9,386.5 L1185.0,385.2 L1183.1,383.9 L1181.2,382.7 L1179.3,381.4 L1177.4,380.1 L1175.6,378.8 L1173.7,377.6 L1171.8,376.3 L1170.9,374.1 L1170.1,372.0 L1169.2,369.9 L1168.4,367.8 L1167.6,365.7 L1166.7,363.6 L1165.9,361.4 L1165.0,359.3 L1164.2,357.2 L1163.3,355.1 L1161.5,353.8 L1159.7,352.6 L1157.8,351.3 L1156.0,350.0 L1154.2,348.7 L1152.3,347.4 L1150.5,346.2 L1148.7,344.9 L1146.9,343.6 L1145.0,342.3 L1143.2,341.0 L1142.4,338.9 L1141.6,336.8 L1140.7,334.6 L1139.9,332.5 L1139.1,330.4 L1138.3,328.3 L1137.4,326.1 M1240.3,428.0 L1239.7,425.7 L1239.0,423.3 L1238.4,421.0 L1237.7,418.7 L1237.1,416.4 L1236.5,414.1 L1234.7,412.6 L1233.0,411.2 L1231.3,409.8 L1229.6,408.3 L1227.9,406.9 L1226.1,405.4 L1224.4,404.0 L1223.9,401.9 L1223.3,399.8 L1222.7,397.7 L1222.1,395.6 L1221.6,393.6 L1221.0,391.5 L1220.4,389.4 L1219.9,387.3 L1218.1,385.8 L1216.3,384.3 M1200.8,357.3 L1200.2,355.1 L1198.5,353.6 L1196.8,352.1 L1195.1,350.7 L1193.4,349.2 L1191.7,347.7 L1190.0,346.2 L1188.3,344.7 L1186.6,343.2 L1184.9,341.8 L1183.2,340.3 L1182.6,338.1 L1182.1,335.9 L1181.5,333.7 L1180.9,331.5 L1180.3,329.3 L1179.7,327.2 L1179.2,325.0 L1178.6,322.8 L1178.0,320.6 L1177.5,318.5 L1176.9,316.3 L1175.2,314.8 L1173.5,313.3 L1171.8,311.8 L1170.2,310.3 L1168.5,308.8 L1166.8,307.3 L1165.1,305.8 L1163.5,304.3 L1161.8,302.8 L1160.1,301.3 L1158.5,299.8 M1260.2,416.5 L1258.6,414.8 L1257.1,413.2 L1255.5,411.5 L1253.9,409.8 L1252.3,408.1 L1250.7,406.4 L1250.4,404.3 L1250.1,402.1 L1249.8,400.0 L1249.5,397.9 L1249.3,395.8 L1249.0,393.7 L1248.7,391.5 L1247.3,390.0 L1245.8,388.5 L1244.4,386.9 L1243.0,385.3 L1241.5,383.8 L1240.1,382.2 L1238.6,380.6 L1237.2,379.0 L1236.9,376.8 L1236.6,374.6 L1236.4,372.4 L1236.1,370.3 L1235.8,368.1 L1235.6,365.9 L1235.3,363.7 L1235.0,361.5 L1233.5,359.9 L1232.0,358.2 L1230.4,356.5 L1228.9,354.8 L1227.3,353.1 L1225.8,351.3 M1220.9,344.1 L1220.7,342.0 L1220.4,339.9 L1220.2,337.9 L1220.0,335.8 L1219.7,333.8 L1219.5,331.7 L1219.2,329.7 L1219.0,327.6 L1218.7,325.5 L1217.3,323.9 L1215.8,322.2 L1214.2,320.4 L1212.7,318.7 L1211.2,317.0 M1273.9,410.9 L1273.8,408.6 L1273.8,406.3 L1273.8,404.0 L1273.8,401.7 L1273.8,399.4 L1273.7,397.1 L1272.5,395.3 L1271.2,393.6 L1269.9,391.9 L1268.7,390.1 L1267.4,388.4 L1266.1,386.6 L1264.9,384.9 L1264.8,382.8 L1264.8,380.8 L1264.8,378.7 L1264.8,376.6 L1264.8,374.6 L1264.7,372.5 L1264.7,370.4 L1264.7,368.4 L1263.4,366.5 L1262.0,364.7 L1260.7,362.9 L1259.4,361.0 L1258.1,359.2 L1256.8,357.4 L1255.4,355.6 L1254.1,353.7 L1254.1,351.5 L1254.1,349.3 L1254.1,347.1 L1254.1,345.0 L1254.8,343.8 L1254.8,342.6 L1254.2,341.9 L1252.8,342.0 L1251.3,343.1 L1250.1,343.7 L1249.2,343.8 L1248.8,343.1 L1248.6,341.5 L1248.6,339.0 M1295.8,405.0 L1294.7,403.0 L1293.6,401.0 L1292.5,399.0 L1291.4,397.0 L1290.3,395.0 L1289.2,393.0 L1289.4,390.8 L1289.7,388.7 L1289.9,386.6 L1290.2,384.4 L1290.4,382.3 L1290.7,380.1 L1290.8,378.3 L1289.6,377.0 L1288.4,375.9 L1287.4,374.9 L1286.6,374.0 L1286.1,373.2 L1285.6,372.4 L1285.1,371.4 L1284.2,370.1 L1284.7,368.6 L1285.4,366.4 L1286.3,364.0 L1287.4,361.7 L1288.5,360.0 L1289.5,359.2 L1290.4,359.6 L1290.9,361.0 L1288.0,362.0 L1285.4,363.0 L1283.5,363.8 L1282.4,363.9 L1282.1,363.3 L1282.6,361.9 L1283.4,360.0 L1284.4,357.7 L1285.2,355.3 L1286.1,353.3 L1286.6,351.3 M1310.3,403.2 L1310.8,400.9 L1311.4,398.7 L1311.9,396.5 M1307.2,368.2 L1307.8,366.6 L1308.6,364.4 L1309.5,361.9 L1310.2,359.6 L1310.7,358.0 L1310.9,357.4 L1310.7,357.9 L1310.2,359.3 L1309.4,360.9 L1308.0,361.6 L1306.9,361.9 L1306.3,361.4 L1306.2,359.9 L1306.6,357.4 L1307.3,354.2 M1332.7,403.2 L1332.2,400.9 L1331.6,398.7 L1331.1,396.5 L1330.5,394.3 L1330.0,392.0 L1329.4,389.8 L1330.2,387.8 L1331.0,385.8 L1331.8,383.8 L1332.5,381.8 L1333.2,380.8 L1333.5,380.6 L1333.7,380.3 L1332.5,380.2 L1331.5,379.8 M1353.8,393.0 L1353.6,390.8 L1353.3,388.7 L1353.1,386.6 L1352.8,384.4 L1352.6,382.3 L1352.3,380.1 L1352.2,378.3 L1353.4,377.0 L1354.7,375.4 L1355.9,373.6 L1357.1,372.0 L1358.1,370.6 L1359.0,369.5 L1360.0,368.6 L1361.2,367.8 L1360.3,367.4 L1359.0,367.4 L1357.8,367.2 L1356.8,366.7 L1356.3,365.8 L1356.1,364.6 L1356.3,363.4 L1356.8,362.4 L1358.3,361.7 L1359.1,362.0 L1359.2,363.0 L1358.9,364.3 L1358.3,365.3 L1357.7,365.3 L1357.4,364.2 L1357.6,361.9 L1358.6,358.6 L1358.7,354.8 L1358.8,351.0 M1369.1,410.9 L1369.2,408.6 L1369.2,406.3 L1369.2,404.0 L1369.2,401.7 L1369.2,399.4 L1369.3,397.1 L1370.5,395.3 L1371.8,393.6 L1373.1,391.9 L1374.3,390.1 L1375.6,388.4 L1376.9,386.6 L1378.1,384.9 L1378.2,382.8 L1378.2,380.8 L1378.2,378.7 L1378.2,376.6 L1378.2,374.6 L1378.3,372.5 L1378.3,370.4 L1378.3,368.4 L1379.6,366.5 L1381.0,364.7 L1382.3,362.9 L1383.6,361.0 L1384.9,359.2 L1386.2,357.4 L1387.6,355.6 L1388.9,353.7 L1388.9,351.5 L1388.9,349.3 L1388.9,347.1 L1388.8,345.1 L1388.1,344.2 L1387.6,343.2 L1387.4,341.8 M1382.8,416.5 L1384.4,414.8 L1385.9,413.2 L1387.5,411.5 L1389.1,409.8 L1390.7,408.1 L1392.3,406.4 L1392.6,404.3 L1392.9,402.1 L1393.2,400.0 L1393.5,397.9 L1393.7,395.8 L1394.0,393.7 L1394.3,391.5 L1395.7,390.0 L1397.2,388.5 L1398.6,386.9 L1400.0,385.3 L1401.5,383.8 L1402.9,382.2 L1404.4,380.6 L1405.8,379.0 L1406.1,376.8 L1406.4,374.6 L1406.6,372.4 L1406.9,370.3 L1407.2,368.1 L1407.4,365.9 L1407.7,363.7 L1408.0,361.5 L1409.5,359.9 L1411.0,358.2 L1412.6,356.5 L1414.1,354.8 L1415.7,353.1 L1417.2,351.3 L1418.7,349.6 L1420.3,347.9 L1421.8,346.2 L1422.1,344.1 L1422.3,342.0 L1422.6,339.9 L1422.8,337.9 L1423.0,335.8 L1423.3,333.8 L1423.5,331.7 L1423.8,329.7 L1424.0,327.6 L1424.3,325.5 L1425.7,323.9 L1427.2,322.2 L1428.8,320.4 L1430.3,318.7 L1431.8,317.0 M1402.7,428.0 L1403.3,425.7 L1404.0,423.3 L1404.6,421.0 L1405.3,418.7 L1405.9,416.4 L1406.5,414.1 L1408.3,412.6 L1410.0,411.2 L1411.7,409.8 L1413.4,408.3 L1415.1,406.9 L1416.9,405.4 L1418.6,404.0 L1419.1,401.9 L1419.7,399.8 L1420.3,397.7 L1420.9,395.6 L1421.4,393.6 M1451.3,347.7 L1453.0,346.2 L1454.7,344.7 L1456.4,343.2 L1458.1,341.8 L1459.8,340.3 L1460.4,338.1 L1460.9,335.9 L1461.5,333.7 L1462.1,331.5 L1462.7,329.3 L1463.3,327.2 L1463.8,325.0 L1464.4,322.8 L1465.0,320.6 L1465.5,318.5 L1466.1,316.3 L1467.8,314.8 L1469.5,313.3 L1471.2,311.8 L1472.8,310.3 L1474.5,308.8 L1476.2,307.3 L1477.9,305.8 L1479.5,304.3 L1481.2,302.8 L1482.9,301.3 L1484.5,299.8 L1486.2,298.2 M1414.5,437.1 L1416.5,435.8 L1418.5,434.5 L1420.5,433.2 L1422.6,432.0 L1424.6,430.7 L1426.6,429.4 L1427.4,427.3 L1428.3,425.2 L1429.2,423.1 L1430.1,421.0 L1430.9,418.9 L1431.8,416.8 L1432.7,414.7 L1434.5,413.6 L1436.3,412.4 L1438.1,411.2 L1439.8,410.1 L1441.6,408.9 L1443.4,407.7 L1445.2,406.5 L1447.0,405.4 L1447.9,403.2 L1448.8,401.0 L1449.7,398.7 L1450.6,396.5 L1451.5,394.3 L1452.4,392.1 L1453.3,389.9 L1454.2,387.7 L1456.1,386.5 L1458.0,385.2 L1459.9,383.9 M1467.4,378.8 L1469.3,377.6 L1471.2,376.3 L1472.1,374.1 L1472.9,372.0 L1473.8,369.9 L1474.6,367.8 L1475.4,365.7 L1476.3,363.6 L1477.1,361.4 L1478.0,359.3 L1478.8,357.2 L1479.7,355.1 L1481.5,353.8 L1483.3,352.6 L1485.2,351.3 L1487.0,350.0 L1488.8,348.7 L1490.7,347.4 L1492.5,346.2 L1494.3,344.9 L1496.1,343.6 L1498.0,342.3 L1499.8,341.0 M1430.9,453.6 L1432.1,451.5 L1433.3,449.3 L1434.5,447.2 L1435.8,445.1 L1437.0,443.0 L1438.2,440.9 L1440.2,439.9 L1442.2,438.9 L1444.3,438.0 L1446.3,437.0 L1448.3,436.0 L1450.4,435.0 L1452.4,434.0 L1453.5,432.1 L1454.6,430.2 L1455.6,428.3 L1456.7,426.4 L1457.8,424.5 L1458.8,422.6 L1459.9,420.7 L1461.0,418.8 L1463.1,417.7 L1465.2,416.6 L1467.3,415.6 L1469.4,414.5 L1471.6,413.4 L1473.7,412.4 L1475.8,411.3 L1477.9,410.2 L1479.0,408.2 L1480.1,406.1 L1481.3,404.1 L1482.4,402.0 L1483.5,400.0 L1484.6,398.0 L1485.7,395.9 L1486.8,393.9 L1487.9,391.8 L1490.0,390.8 L1492.0,389.7 L1494.0,388.7 L1496.0,387.6 L1498.0,386.5 L1500.0,385.5 L1502.0,384.4 L1504.0,383.3 L1506.0,382.2 L1508.0,381.1 L1509.1,379.1 L1510.2,377.1 L1511.2,375.1 L1512.3,373.1 L1513.4,371.1 L1514.4,369.1 L1515.5,367.0 L1516.5,365.0 L1517.6,363.0 L1518.7,361.0 L1519.7,359.0 L1521.7,357.9 L1523.7,356.8 L1525.7,355.7 L1527.7,354.6 L1529.6,353.5 L1531.6,352.3 L1533.6,351.2 L1535.6,350.1 L1537.5,348.9 L1539.5,347.8 L1541.5,346.7 L1543.4,345.5 M1195.7,451.7 L1196.8,450.3 L1197.9,448.9 L1199.0,447.6 L1200.2,446.2 L1201.3,444.9 L1202.5,443.5 L1203.6,442.2 L1204.8,440.9 M1175.0,426.5 L1176.4,424.9 L1177.8,423.4 L1179.2,421.8 L1180.6,420.3 L1182.0,418.8 M1141.7,406.4 L1142.8,405.1 L1143.8,403.9 L1144.9,402.7 L1146.0,401.4 L1147.1,400.2 L1148.2,399.0 L1149.4,397.8 L1150.5,396.6 L1151.6,395.4 L1152.8,394.2 L1153.9,393.0 L1155.1,391.8 M1107.1,375.7 L1108.5,374.3 L1109.8,372.9 L1111.1,371.4 L1112.4,370.0 L1113.7,368.6 L1115.1,367.2 L1116.4,365.8 L1117.8,364.5 L1119.1,363.1 L1120.5,361.7 L1121.9,360.4 L1123.3,359.0 M1190.6,434.0 L1192.1,432.3 L1193.7,430.6 L1195.3,428.9 L1196.9,427.3 L1198.5,425.6 L1200.1,424.0 L1201.8,422.4 L1203.5,420.8 L1205.2,419.3 L1206.9,417.7 L1208.6,416.2 L1210.3,414.7 M1165.1,410.2 L1166.4,408.9 L1167.6,407.5 L1168.9,406.2 L1170.1,404.9 L1171.4,403.6 L1172.7,402.4 L1174.0,401.1 L1175.3,399.8 L1176.6,398.6 L1177.9,397.3 L1179.3,396.1 L1180.6,394.9 L1182.0,393.7 L1183.3,392.5 L1184.7,391.3 M1135.0,381.1 L1136.5,379.6 L1138.0,378.1 L1139.5,376.5 L1141.0,375.1 L1142.6,373.6 L1144.1,372.1 L1145.7,370.6 L1147.2,369.2 L1148.8,367.7 L1150.4,366.3 L1152.0,364.8 L1153.6,363.4 L1155.2,362.0 L1156.8,360.6 L1158.4,359.2 L1160.1,357.8 L1161.7,356.5 L1163.3,355.1 M1216.4,429.4 L1218.0,428.0 L1219.6,426.6 L1221.2,425.3 L1222.8,423.9 L1224.5,422.6 L1226.1,421.3 L1227.8,420.1 L1229.5,418.8 L1231.2,417.6 L1232.9,416.4 L1234.7,415.2 L1236.5,414.1 M1196.0,405.4 L1197.2,404.3 L1198.5,403.2 L1199.8,402.1 L1201.1,401.0 L1202.3,400.0 L1203.6,398.9 L1204.9,397.9 L1206.3,396.9 L1207.6,395.9 L1208.9,394.9 L1210.2,393.9 L1211.6,392.9 L1212.9,391.9 L1214.3,391.0 L1215.7,390.0 L1217.1,389.1 L1218.5,388.2 L1219.9,387.3 M1171.8,376.3 L1173.3,375.0 L1174.8,373.7 L1176.3,372.4 L1177.8,371.2 L1179.4,370.0 L1180.9,368.7 L1182.4,367.5 L1184.0,366.3 L1185.6,365.1 L1187.1,364.0 L1188.7,362.8 L1190.3,361.6 L1191.9,360.5 L1193.6,359.4 L1195.2,358.3 L1196.8,357.2 L1198.5,356.2 L1200.2,355.1 M1143.2,341.0 L1145.0,339.5 L1146.8,338.0 L1148.6,336.6 L1150.4,335.1 L1152.2,333.7 L1154.0,332.2 L1155.8,330.8 L1157.7,329.4 L1159.5,328.0 L1161.4,326.6 L1163.3,325.3 L1165.2,323.9 L1167.1,322.6 L1169.0,321.3 L1171.0,320.0 L1172.9,318.7 L1174.9,317.5 L1176.9,316.3 M1224.4,404.0 L1226.1,402.9 L1227.7,401.8 L1229.4,400.8 L1231.1,399.8 L1232.8,398.9 L1234.5,397.9 L1236.2,397.0 L1238.0,396.2 L1239.7,395.3 L1241.5,394.5 L1243.3,393.7 L1245.1,393.0 L1246.9,392.3 L1248.7,391.5 M1224.1,365.4 L1226.2,364.5 L1228.4,363.8 L1230.6,363.0 L1232.8,362.3 L1235.0,361.5 M1183.2,340.3 L1184.8,339.3 L1186.3,338.3 L1187.9,337.3 L1189.5,336.4 L1191.1,335.5 L1192.7,334.7 L1194.3,333.9 L1196.0,333.1 L1197.7,332.3 L1199.4,331.6 L1201.1,330.9 L1202.8,330.3 L1204.6,329.7 L1206.3,329.1 L1208.1,328.5 L1209.9,328.0 L1211.6,327.5 L1213.4,326.9 L1215.2,326.5 L1217.0,326.0 L1218.7,325.5 M1250.7,406.4 L1252.3,405.7 L1253.9,404.9 L1255.6,404.2 L1257.2,403.5 L1258.8,402.7 L1260.4,402.0 L1262.1,401.4 L1263.7,400.7 L1265.4,400.0 L1267.0,399.4 L1268.7,398.8 L1270.4,398.2 L1272.1,397.6 L1273.7,397.1 M1237.2,379.0 L1239.2,378.3 L1241.2,377.6 L1243.1,376.8 L1245.1,375.9 L1247.0,375.0 L1248.9,374.2 L1250.9,373.4 L1252.8,372.6 L1254.8,371.9 L1256.7,371.1 L1258.7,370.4 L1260.7,369.7 L1262.7,369.0 L1264.7,368.4 M1226.1,344.7 L1227.6,344.2 L1229.1,343.5 L1230.6,342.8 L1232.2,342.1 L1233.7,341.5 L1235.2,340.8 L1236.7,340.2 L1238.3,339.5 L1239.8,338.9 L1241.4,338.3 L1242.9,337.7 L1244.5,337.1 M1250.2,339.5 L1251.1,341.0 L1251.3,342.2 L1251.3,343.1 M1264.9,384.9 L1266.7,384.3 L1268.5,383.7 L1270.4,383.1 L1272.2,382.5 L1274.1,382.0 L1275.9,381.4 L1277.8,380.9 L1279.6,380.4 L1281.5,380.0 L1283.4,379.5 L1285.3,379.1 L1287.1,378.7 L1289.0,378.4 L1290.8,378.3 M1254.1,353.7 L1256.3,353.0 L1258.5,352.3 L1261.0,352.6 L1263.4,354.3 L1264.5,355.3 L1264.4,355.5 L1263.7,355.1 L1264.5,354.9 L1266.4,355.1 L1269.4,355.6 L1273.6,356.6 L1278.9,357.8 L1284.9,359.4 L1290.9,361.0 M1289.2,393.0 L1290.9,392.6 L1292.6,392.3 L1294.4,392.0 L1296.1,391.7 L1297.8,391.4 L1299.6,391.1 M1284.2,370.1 L1286.5,370.6 L1288.8,370.9 L1290.9,371.0 L1292.8,371.1 L1294.7,371.2 L1296.6,371.3 L1298.7,371.3 L1301.1,371.2 L1303.7,370.8 L1306.5,370.3 M1285.2,355.3 L1285.8,355.8 L1286.2,356.0 L1286.5,355.9 L1286.8,355.7 L1287.4,355.4 L1288.3,354.9 L1289.7,354.6 L1291.4,354.2 L1293.5,353.9 L1295.9,353.8 L1298.3,353.8 M1302.8,354.3 L1304.6,354.8 L1305.9,355.5 L1306.9,356.2 L1307.5,357.1 L1307.9,358.0 L1308.3,359.0 L1308.7,360.0 L1309.4,360.9 M1329.8,381.7 L1331.7,381.0 L1333.7,380.3 M1329.4,389.8 L1331.2,389.9 L1332.9,390.0 L1334.7,390.2 L1336.4,390.3 L1338.2,390.5 L1339.9,390.7 L1341.7,390.9 L1343.4,391.1 L1345.2,391.4 L1346.9,391.7 L1348.6,392.0 L1350.4,392.3 L1352.1,392.6 L1353.8,393.0 M1334.8,369.2 L1337.6,370.8 L1339.6,372.2 L1340.8,373.1 L1341.5,373.6 L1342.0,373.5 L1342.7,373.1 L1344.1,372.3 L1346.3,371.3 L1349.5,370.3 L1353.5,369.3 L1357.5,368.4 L1361.2,367.8 M1338.1,360.1 L1340.9,359.3 L1343.9,358.4 L1346.7,357.6 L1349.1,356.7 L1351.2,356.0 L1352.6,355.5 L1353.6,355.1 L1354.0,354.9 L1354.1,354.9 L1354.1,355.2 L1354.0,355.7 L1354.2,356.3 L1354.7,357.0 L1355.7,357.7 L1357.0,358.2 L1358.6,358.6 M1352.2,378.3 L1354.0,378.4 L1355.9,378.7 L1357.7,379.1 L1359.6,379.5 L1361.5,380.0 L1363.4,380.4 L1365.2,380.9 L1367.1,381.4 L1368.9,382.0 L1370.8,382.5 L1372.6,383.1 L1374.5,383.7 L1376.3,384.3 L1378.1,384.9 M1356.8,362.4 L1359.2,361.2 L1362.1,359.5 L1365.1,357.4 L1367.9,355.1 L1370.1,352.9 L1371.7,350.9 L1372.6,349.3 L1373.4,349.7 L1375.0,350.5 L1377.7,351.3 L1381.5,351.8 L1384.5,352.3 L1386.7,353.0 L1388.9,353.7 M1369.3,397.1 L1370.9,397.6 L1372.6,398.2 L1374.3,398.8 L1376.0,399.4 L1377.6,400.0 L1379.3,400.7 L1380.9,401.4 L1382.6,402.0 L1384.2,402.7 L1385.8,403.5 L1387.4,404.2 L1389.1,404.9 L1390.7,405.7 L1392.3,406.4 M1378.3,368.4 L1380.3,369.0 L1382.3,369.7 L1384.3,370.4 L1386.3,371.1 L1388.2,371.9 L1390.2,372.6 L1392.1,373.4 L1394.1,374.2 L1396.0,375.0 L1397.9,375.9 L1399.9,376.8 L1401.8,377.6 L1403.8,378.3 L1405.8,379.0 M1400.1,337.7 L1401.6,338.3 L1403.2,338.9 L1404.7,339.5 L1406.3,340.2 L1407.8,340.8 L1409.3,341.5 L1410.8,342.1 L1412.4,342.8 L1413.9,343.5 L1415.4,344.2 L1416.9,344.7 L1418.6,345.2 L1420.2,345.7 L1421.8,346.2 M1394.3,391.5 L1396.1,392.3 L1397.9,393.0 L1399.7,393.7 L1401.5,394.5 L1403.3,395.3 L1405.0,396.2 L1406.8,397.0 L1408.5,397.9 L1410.2,398.9 L1411.9,399.8 L1413.6,400.8 L1415.3,401.8 L1416.9,402.9 L1418.6,404.0 M1408.0,361.5 L1410.2,362.3 L1412.4,363.0 L1414.6,363.8 L1416.8,364.5 L1418.9,365.4 L1421.1,366.3 L1423.2,367.2 M1424.3,325.5 L1426.0,326.0 L1427.8,326.5 L1429.6,326.9 L1431.4,327.5 L1433.1,328.0 L1434.9,328.5 L1436.7,329.1 L1438.4,329.7 L1440.2,330.3 L1441.9,330.9 L1443.6,331.6 L1445.3,332.3 L1447.0,333.1 L1448.7,333.9 L1450.3,334.7 L1451.9,335.5 L1453.5,336.4 L1455.1,337.3 L1456.7,338.3 L1458.2,339.3 L1459.8,340.3 M1406.5,414.1 L1408.3,415.2 L1410.1,416.4 L1411.8,417.6 L1413.5,418.8 L1415.2,420.1 L1416.9,421.3 L1418.5,422.6 L1420.2,423.9 L1421.8,425.3 L1423.4,426.6 L1425.0,428.0 L1426.6,429.4 M1427.3,390.0 L1428.7,391.0 L1430.1,391.9 L1431.4,392.9 L1432.8,393.9 L1434.1,394.9 L1435.4,395.9 L1436.7,396.9 L1438.1,397.9 L1439.4,398.9 L1440.7,400.0 L1441.9,401.0 L1443.2,402.1 L1444.5,403.2 L1445.8,404.3 L1447.0,405.4 M1449.4,359.4 L1451.1,360.5 L1452.7,361.6 L1454.3,362.8 L1455.9,364.0 L1457.4,365.1 L1459.0,366.3 L1460.6,367.5 L1462.1,368.7 L1463.6,370.0 L1465.2,371.2 L1466.7,372.4 L1468.2,373.7 L1469.7,375.0 L1471.2,376.3 M1466.1,316.3 L1468.1,317.5 L1470.1,318.7 L1472.0,320.0 L1474.0,321.3 L1475.9,322.6 L1477.8,323.9 L1479.7,325.3 L1481.6,326.6 L1483.5,328.0 L1485.3,329.4 L1487.2,330.8 L1489.0,332.2 L1490.8,333.7 L1492.6,335.1 L1494.4,336.6 L1496.2,338.0 L1498.0,339.5 L1499.8,341.0 M1432.7,414.7 L1434.4,416.2 L1436.1,417.7 L1437.8,419.3 L1439.5,420.8 L1441.2,422.4 L1442.9,424.0 L1444.5,425.6 L1446.1,427.3 L1447.7,428.9 L1449.3,430.6 L1450.9,432.3 L1452.4,434.0 M1454.2,387.7 L1455.6,388.9 M1470.3,402.4 L1471.6,403.6 L1472.9,404.9 L1474.1,406.2 L1475.4,407.5 L1476.6,408.9 L1477.9,410.2 M1479.7,355.1 L1481.3,356.5 L1482.9,357.8 L1484.6,359.2 L1486.2,360.6 L1487.8,362.0 L1489.4,363.4 L1491.0,364.8 L1492.6,366.3 L1494.2,367.7 L1495.8,369.2 L1497.3,370.6 L1498.9,372.1 L1500.4,373.6 L1502.0,375.1 L1503.5,376.5 L1505.0,378.1 L1506.5,379.6 L1508.0,381.1 M1438.2,440.9 L1439.4,442.2 L1440.5,443.5 L1441.7,444.9 L1442.8,446.2 L1444.0,447.6 L1445.1,448.9 L1446.2,450.3 L1447.3,451.7 M1461.0,418.8 L1462.4,420.3 L1463.8,421.8 L1465.2,423.4 L1466.6,424.9 L1468.0,426.5 L1469.4,428.1 L1470.7,429.7 L1472.0,431.3 M1487.9,391.8 L1489.1,393.0 L1490.2,394.2 L1491.4,395.4 L1492.5,396.6 L1493.6,397.8 L1494.8,399.0 L1495.9,400.2 L1497.0,401.4 L1498.1,402.7 L1499.2,403.9 L1500.2,405.1 L1501.3,406.4 M1519.7,359.0 L1521.1,360.4 L1522.5,361.7 L1523.9,363.1 L1525.2,364.5 L1526.6,365.8 L1527.9,367.2 L1529.3,368.6 L1530.6,370.0 L1531.9,371.4 L1533.2,372.9 L1534.5,374.3 L1535.9,375.7 M1087.7,357.8 L1089.0,356.4 L1090.3,355.0 L1091.7,353.5 L1093.0,352.2 L1094.4,350.8 L1095.7,349.4 L1097.1,348.0 L1098.5,346.6 L1099.9,345.2 L1101.3,343.9 L1102.7,342.5 L1104.1,341.2 L1105.5,339.8 L1106.9,338.5 L1108.3,337.2 L1109.7,335.9 L1111.2,334.5 L1112.6,333.2 L1114.0,331.9 L1115.5,330.6 L1116.9,329.3 L1118.4,328.1 L1119.9,326.8 M1158.5,297.2 L1160.2,296.1 L1161.8,295.1 M1486.1,298.2 L1487.8,299.3 L1489.4,300.4 L1491.0,301.5 L1492.6,302.6 L1494.2,303.7 L1495.8,304.9 L1497.4,306.0 L1498.9,307.2 L1500.5,308.4 L1502.0,309.5 M1523.1,326.8 L1524.6,328.1 L1526.1,329.3 L1527.5,330.6 L1529.0,331.9 L1530.4,333.2 L1531.8,334.5 L1533.3,335.9 L1534.7,337.2 L1536.1,338.5 L1537.5,339.8 L1538.9,341.2 L1540.3,342.5 L1541.7,343.9 L1543.1,345.2 L1544.5,346.6 L1545.9,348.0 L1547.3,349.4 M1206.6,460.5 L1204.7,458.9 L1202.7,457.4 L1200.8,455.8 L1198.9,454.3 L1196.9,452.7 L1195.0,451.1 L1193.0,449.5 L1191.1,448.0 L1189.2,446.4 L1187.2,444.8 L1185.3,443.2 L1183.4,441.7 L1181.5,440.1 L1179.5,438.5 L1177.6,436.9 L1175.7,435.3 L1173.8,433.7 M1162.3,424.1 L1160.4,422.5 L1158.5,420.9 L1156.6,419.2 L1154.7,417.6 L1152.8,416.0 L1150.9,414.4 L1149.0,412.8 L1147.2,411.1 L1145.3,409.5 L1143.4,407.9 L1141.5,406.2 L1139.6,404.6 L1137.7,403.0 L1135.8,401.3 L1134.0,399.7 L1132.1,398.0 L1130.2,396.4 L1128.4,394.7 L1126.5,393.1 L1124.6,391.4 L1122.8,389.8 L1120.9,388.1 L1119.0,386.4 L1117.2,384.8 L1115.3,383.1 L1113.5,381.4 L1111.6,379.8 L1109.7,378.1 L1107.9,376.4 L1106.1,374.7 M1089.5,359.5 L1087.7,357.8 M1436.4,460.5 L1438.3,458.9 L1440.3,457.4 L1442.2,455.8 L1444.1,454.3 L1446.1,452.7 L1448.0,451.1 L1450.0,449.5 L1451.9,448.0 L1453.8,446.4 L1455.8,444.8 L1457.7,443.2 L1459.6,441.7 L1461.5,440.1 L1463.5,438.5 L1465.4,436.9 L1467.3,435.3 L1469.2,433.7 L1471.1,432.1 L1473.0,430.5 L1474.9,428.9 L1476.9,427.3 L1478.8,425.7 L1480.7,424.1 L1482.6,422.5 L1484.5,420.9 L1486.4,419.2 L1488.3,417.6 L1490.2,416.0 L1492.1,414.4 L1494.0,412.8 L1495.8,411.1 L1497.7,409.5 L1499.6,407.9 L1501.5,406.2 L1503.4,404.6 L1505.3,403.0 L1507.2,401.3 L1509.0,399.7 L1510.9,398.0 L1512.8,396.4 L1514.6,394.7 L1516.5,393.1 L1518.4,391.4 L1520.2,389.8 L1522.1,388.1 L1524.0,386.4 L1525.8,384.8 L1527.7,383.1 L1529.5,381.4 L1531.4,379.8 L1533.3,378.1 L1535.1,376.4 L1536.9,374.7" fill="none" stroke="#0e0a90" stroke-width="3.0" stroke-linejoin="round" stroke-linecap="round"/>
<path d="M1206.6,460.5 L1207.6,459.3 L1208.5,458.1 L1209.4,456.9 L1210.3,455.7 L1211.3,454.6 L1212.3,453.4 L1213.3,452.3 L1214.2,451.1 L1215.2,450.0 L1216.3,448.9 L1217.3,447.8 L1218.3,446.7 L1219.4,445.6 L1220.4,444.5 L1221.5,443.5 L1222.6,442.4 L1223.7,441.4 L1224.8,440.4 L1225.9,439.4 L1227.0,438.4 L1228.1,437.4 L1229.3,436.4 L1230.4,435.5 L1231.6,434.5 L1232.7,433.6 L1233.9,432.7 L1235.1,431.8 L1236.3,430.9 L1237.5,430.0 L1238.7,429.1 L1239.9,428.3 L1241.2,427.4 L1242.4,426.6 L1243.6,425.8 L1244.9,425.0 L1246.2,424.2 L1247.4,423.4 L1248.7,422.6 L1250.0,421.9 L1251.3,421.1 L1252.6,420.4 L1253.9,419.7 L1255.2,419.0 L1256.5,418.3 L1257.8,417.7 L1259.2,417.0 L1260.5,416.4 L1261.8,415.8 L1263.2,415.2 L1264.5,414.6 L1265.9,414.0 L1267.3,413.4 L1268.6,412.9 L1270.0,412.3 L1271.4,411.8 L1272.8,411.3 L1274.2,410.8 L1275.5,410.3 L1276.9,409.8 L1278.3,409.4 L1279.8,409.0 L1281.2,408.5 L1282.6,408.1 L1284.0,407.7 L1285.4,407.4 L1286.8,407.0 L1288.3,406.6 L1289.7,406.3 L1291.1,406.0 L1292.5,405.7 L1294.0,405.4 L1295.4,405.1 L1296.9,404.9 L1298.3,404.6 L1299.7,404.4 L1301.2,404.2 L1302.6,404.0 L1304.1,403.8 L1305.5,403.6 L1307.0,403.5 L1308.4,403.3 L1309.9,403.2 L1311.3,403.1 L1312.8,403.0 L1314.2,402.9 L1315.7,402.8 L1317.1,402.8 L1318.6,402.8 L1320.0,402.7 L1321.5,402.7 L1323.0,402.7 L1324.4,402.8 L1325.9,402.8 L1327.3,402.8 L1328.8,402.9 L1330.2,403.0 L1331.7,403.1 L1333.1,403.2 L1334.6,403.3 L1336.0,403.5 L1337.5,403.6 L1338.9,403.8 L1340.4,404.0 L1341.8,404.2 L1343.3,404.4 L1344.7,404.6 L1346.1,404.9 L1347.6,405.1 L1349.0,405.4 L1350.5,405.7 L1351.9,406.0 L1353.3,406.3 L1354.7,406.6 L1356.2,407.0 L1357.6,407.4 L1359.0,407.7 L1360.4,408.1 L1361.8,408.5 L1363.2,409.0 L1364.7,409.4 L1366.1,409.8 L1367.5,410.3 L1368.8,410.8 L1370.2,411.3 L1371.6,411.8 L1373.0,412.3 L1374.4,412.9 L1375.7,413.4 L1377.1,414.0 L1378.5,414.6 L1379.8,415.2 L1381.2,415.8 L1382.5,416.4 L1383.8,417.0 L1385.2,417.7 L1386.5,418.3 L1387.8,419.0 L1389.1,419.7 L1390.4,420.4 L1391.7,421.1 L1393.0,421.9 L1394.3,422.6 L1395.6,423.4 L1396.8,424.2 L1398.1,425.0 L1399.4,425.8 L1400.6,426.6 L1401.8,427.4 L1403.1,428.3 L1404.3,429.1 L1405.5,430.0 L1406.7,430.9 L1407.9,431.8 L1409.1,432.7 L1410.3,433.6 L1411.4,434.5 L1412.6,435.5 L1413.7,436.4 L1414.9,437.4 L1416.0,438.4 L1417.1,439.4 L1418.2,440.4 L1419.3,441.4 L1420.4,442.4 L1421.5,443.5 L1422.6,444.5 L1423.6,445.6 L1424.7,446.7 L1425.7,447.8 L1426.7,448.9 L1427.8,450.0 L1428.8,451.1 L1429.7,452.3 L1430.7,453.4 L1431.7,454.6 L1432.7,455.7 L1433.6,456.9 L1434.5,458.1 L1435.4,459.3 L1436.4,460.5" fill="none" stroke="#0e0a90" stroke-width="5.4" stroke-linejoin="round" stroke-linecap="round"/>
<path d="M1111.4,352.3 L1109.4,351.2 L1107.4,350.1 L1105.5,348.9 L1103.5,347.8 M1195.1,403.2 L1194.2,401.0 M1188.8,387.7 L1186.9,386.5 M1137.4,326.1 L1136.6,324.0 M1216.3,384.3 L1214.5,382.7 M1201.4,359.5 L1200.8,357.3 M1158.5,299.8 L1156.8,298.2 M1225.8,351.3 L1224.3,349.6 L1222.7,347.9 L1221.2,346.2 L1220.9,344.1 M1211.2,317.0 L1209.7,315.3 L1208.2,313.6 L1206.7,311.8 L1205.2,310.1 L1203.7,308.4 L1202.2,306.6 L1202.0,304.6 L1201.7,302.5 L1201.5,300.5 L1201.3,298.5 L1201.1,296.4 L1200.8,294.4 L1200.6,292.4 L1200.4,290.4 L1200.2,288.3 L1199.9,286.3 L1199.9,284.8 L1200.0,283.9 M1248.6,339.0 L1248.5,335.7 L1248.1,331.9 L1247.4,328.0 L1246.3,324.2 L1244.8,321.0 L1244.8,318.5 M1245.9,319.4 L1246.4,321.3 L1246.9,322.9 L1247.5,323.8 L1248.3,323.9 L1249.1,323.0 L1249.0,320.6 L1249.5,317.9 M1243.9,306.3 L1240.9,305.7 L1237.8,304.8 L1235.1,303.7 M1286.6,351.3 L1286.7,349.5 L1286.5,348.4 L1286.1,347.9 L1285.7,348.0 L1285.3,348.4 L1285.0,348.7 L1284.9,348.5 L1284.9,347.6 L1283.1,345.9 L1281.4,343.3 L1279.9,339.9 L1278.6,336.0 L1277.6,332.2 L1277.0,328.8 L1276.7,326.3 L1276.5,325.1 L1276.3,325.1 L1276.2,326.2 L1275.8,328.2 L1276.0,331.5 L1275.7,334.6 L1275.2,336.9 L1274.5,338.0 L1273.8,337.9 L1273.1,336.6 L1272.6,334.5 L1272.6,332.0 L1273.0,329.5 L1274.0,327.3 L1275.5,325.4 L1277.5,323.8 M1311.9,396.5 L1312.5,394.3 M1311.6,365.5 L1309.8,366.3 L1308.5,367.4 L1307.6,368.4 L1307.2,369.0 L1307.1,369.0 L1307.2,368.2 M1307.3,354.2 L1308.1,350.5 L1308.9,346.8 L1309.5,343.6 L1309.7,341.3 L1310.8,339.6 L1312.1,338.8 L1313.7,339.0 L1315.3,339.7 L1316.8,340.7 L1318.1,341.5 L1318.9,342.1 L1319.2,342.2 L1318.8,342.2 L1317.7,342.1 L1316.0,342.4 L1313.1,342.4 L1310.3,342.0 L1307.8,341.2 L1305.9,340.1 L1304.7,338.7 L1304.1,337.0 L1304.1,335.3 L1304.5,333.6 L1305.0,332.0 L1305.5,330.5 L1305.8,329.3 L1305.6,328.1 M1331.5,379.8 L1330.5,378.7 L1329.8,377.0 M1335.5,354.2 L1336.4,351.5 L1336.7,349.7 L1336.3,349.0 L1335.5,349.1 L1334.4,349.7 M1331.5,347.7 L1330.7,346.0 L1330.0,344.0 L1329.4,341.9 L1329.1,339.9 L1329.0,338.1 L1329.3,336.7 L1329.8,335.7 L1330.6,335.2 L1331.4,335.2 L1334.6,335.5 L1337.5,335.9 L1339.8,336.0 L1341.4,335.6 L1342.4,334.7 L1342.7,333.7 L1342.7,332.6 L1342.4,331.9 L1342.2,331.5 L1342.1,331.5 L1342.4,331.7 L1343.0,331.6 M1347.2,405.0 L1348.3,403.0 L1349.4,401.0 L1350.5,399.0 L1351.6,397.0 L1352.7,395.0 L1353.8,393.0 M1358.8,351.0 L1359.1,347.8 L1359.3,345.5 L1359.4,344.0 L1359.6,343.4 L1359.7,343.4 L1359.8,343.5 L1359.9,343.4 L1360.0,343.0 L1360.7,341.2 L1360.7,339.6 L1360.1,338.3 L1359.1,337.6 L1357.9,337.7 L1356.8,338.3 L1356.1,339.2 L1355.9,339.9 L1356.3,340.1 L1357.3,339.4 L1358.7,337.8 L1359.4,336.0 L1360.5,333.4 L1361.6,330.5 L1362.8,327.7 L1363.7,325.4 L1364.4,324.0 L1364.7,323.5 L1364.6,324.0 L1364.2,324.9 L1363.4,326.0 L1362.5,326.8 L1361.5,326.9 M1387.4,341.8 L1387.1,340.1 L1386.6,338.5 L1388.6,336.3 L1389.9,334.8 L1390.7,334.3 L1391.1,334.5 L1391.3,335.1 L1391.6,335.7 L1392.2,335.8 M1408.0,304.3 L1409.7,303.2 L1410.6,302.9 L1411.0,302.4 L1410.9,301.7 L1410.5,300.9 M1431.8,317.0 L1433.3,315.3 L1434.8,313.6 L1436.3,311.8 L1437.8,310.1 L1439.3,308.4 L1440.8,306.6 L1441.0,304.6 L1441.3,302.5 L1441.5,300.5 L1441.7,298.5 L1441.9,296.4 L1442.2,294.4 L1442.4,292.4 L1442.6,290.4 L1442.8,288.3 L1443.1,286.3 L1443.0,284.7 L1442.8,284.2 M1421.4,393.6 L1422.0,391.5 L1422.6,389.4 L1423.1,387.3 L1424.9,385.8 M1446.2,352.1 L1447.9,350.7 L1449.6,349.2 L1451.3,347.7 M1459.9,383.9 L1461.8,382.7 L1463.7,381.4 L1465.6,380.1 L1467.4,378.8 M1499.8,341.0 L1500.6,338.9 L1501.4,336.8 L1502.3,334.6 M1171.0,431.3 L1172.3,429.7 L1173.6,428.1 L1175.0,426.5 M1184.7,391.3 L1186.0,390.1 L1187.4,388.9 M1219.8,367.2 L1221.9,366.3 L1224.1,365.4 M1221.2,346.2 L1222.8,345.7 L1224.4,345.2 L1226.1,344.7 M1244.5,337.1 L1246.0,336.6 L1248.3,337.8 L1250.2,339.5 M1202.2,306.6 L1204.2,306.2 L1206.1,305.7 L1208.1,305.2 L1210.0,304.6 L1211.7,303.8 L1213.5,303.0 L1215.3,302.2 L1217.7,302.0 L1220.0,301.8 L1222.0,301.7 L1224.1,302.3 L1226.5,303.7 L1229.1,305.4 L1231.9,307.4 L1234.7,309.7 L1237.5,312.2 L1240.2,314.7 L1242.7,317.2 M1245.0,319.5 L1247.1,321.4 L1249.1,323.0 M1244.8,321.0 L1247.3,321.3 L1249.9,322.0 L1252.7,323.0 L1255.4,324.4 L1257.9,326.0 L1260.0,328.0 L1261.7,330.2 L1263.0,332.4 L1263.9,334.7 L1264.5,336.9 L1265.0,339.1 L1265.6,341.0 L1266.3,342.8 L1267.5,344.3 L1269.1,345.5 L1271.1,346.4 L1273.6,347.0 L1276.3,347.4 L1279.3,347.6 L1282.2,347.7 L1284.9,347.6 M1299.6,391.1 L1301.3,390.9 L1303.1,390.7 M1306.5,370.3 L1309.3,369.4 M1298.3,353.8 L1300.7,354.0 L1302.8,354.3 M1275.8,328.2 L1277.0,329.7 L1278.2,331.2 L1279.7,332.7 L1281.4,333.9 L1283.5,334.9 L1285.7,335.7 L1288.1,336.2 L1290.5,336.6 L1292.7,336.8 L1294.6,336.9 L1296.3,337.0 L1297.8,337.2 L1299.3,337.4 L1300.8,337.8 L1302.5,338.3 L1304.5,339.0 L1306.8,339.7 L1309.3,340.4 L1311.8,341.2 L1314.2,341.9 L1316.0,342.4 M1325.9,382.9 L1327.8,382.3 L1329.8,381.7 M1307.2,368.2 L1308.3,368.0 L1310.1,367.7 M1309.7,341.3 L1310.9,340.7 L1311.8,340.3 L1312.3,339.9 L1312.6,339.8 L1312.7,339.9 L1313.0,340.1 L1313.5,340.6 L1314.5,341.1 L1316.0,341.9 L1318.0,342.7 L1320.4,343.5 L1323.0,344.4 L1325.6,345.2 L1327.9,346.0 L1329.8,346.8 L1331.2,347.5 L1332.0,348.1 M1331.6,367.6 L1334.8,369.2 M1335.5,360.9 L1338.1,360.1 M1331.4,335.2 L1334.9,335.5 L1337.8,335.9 L1340.0,336.6 L1341.7,337.2 L1343.0,338.0 L1344.1,338.6 L1345.5,339.1 L1347.3,339.5 L1349.5,339.8 L1352.0,340.0 L1354.6,340.0 L1357.0,340.1 L1358.9,340.1 L1360.1,340.1 L1360.4,340.2 L1360.0,340.2 L1359.2,340.2 L1358.3,340.0 L1357.6,339.6 L1357.7,338.9 L1358.7,337.8 M1360.0,343.0 L1361.4,341.4 L1363.1,339.9 L1365.2,338.5 L1367.7,337.4 L1370.2,336.6 L1372.7,336.1 L1374.9,336.0 L1376.5,336.3 L1377.5,336.8 L1377.9,337.6 L1377.9,338.5 L1377.6,339.3 L1377.3,340.0 L1377.4,340.4 L1378.0,340.3 L1379.5,339.8 L1381.8,338.7 L1384.9,337.2 L1388.5,335.3 L1392.5,333.2 M1386.6,338.5 L1390.1,337.2 L1392.9,336.6 L1394.8,336.4 L1396.0,336.4 L1397.0,336.6 L1398.5,337.1 L1400.1,337.7 M1411.3,313.8 L1413.1,312.4 L1415.0,310.7 L1417.4,308.8 L1420.2,306.6 L1423.1,304.4 L1425.6,302.9 L1427.7,302.2 L1429.5,303.0 L1431.3,303.8 L1433.0,304.6 L1434.9,305.2 L1436.9,305.7 L1438.8,306.2 L1440.8,306.6 M1423.2,367.2 L1425.3,368.1 M1423.1,387.3 L1424.5,388.2 L1425.9,389.1 L1427.3,390.0 M1447.8,358.3 L1449.4,359.4 M1455.6,388.9 L1457.0,390.1 L1458.3,391.3 L1459.7,392.5 M1467.7,399.8 L1469.0,401.1 L1470.3,402.4 M1119.9,326.8 L1121.3,325.5 L1122.8,324.3 L1124.3,323.0 M1155.2,299.3 L1156.9,298.2 L1158.5,297.2 M1161.8,295.1 L1163.5,294.1 L1165.3,293.2 L1167.0,292.3 L1168.8,291.5 L1170.6,290.7 L1172.4,289.9 L1174.2,289.1 L1176.1,288.5 L1177.9,287.8 M1465.1,287.8 L1466.9,288.5 L1468.8,289.1 L1470.6,289.9 L1472.4,290.7 L1474.2,291.5 L1476.0,292.3 L1477.7,293.2 L1479.5,294.1 L1481.2,295.1 L1482.8,296.1 L1484.5,297.2 L1486.1,298.2 M1502.0,309.5 L1503.6,310.7 L1505.1,311.9 M1521.7,325.5 L1523.1,326.8 M1547.3,349.4 L1548.6,350.8 L1550.0,352.2 M1173.8,433.7 L1171.9,432.1 L1170.0,430.5 M1166.1,427.3 L1164.2,425.7 L1162.3,424.1 M1106.1,374.7 L1104.2,373.0 M1091.3,361.2 L1089.5,359.5 M1536.9,374.7 L1538.8,373.0 L1540.6,371.4" fill="none" stroke="#1d3f9a" stroke-width="3.0" stroke-linejoin="round" stroke-linecap="round"/>
<path d="M1194.2,401.0 L1193.3,398.7 L1192.4,396.5 M1190.6,392.1 L1189.7,389.9 L1188.8,387.7 M1136.6,324.0 L1135.8,321.9 L1134.9,319.8 M1214.5,382.7 L1212.7,381.2 M1202.6,364.0 L1202.0,361.8 L1201.4,359.5 M1244.8,318.5 L1244.9,316.8 L1245.1,316.1 L1245.3,316.4 L1245.6,317.6 L1245.9,319.4 M1249.5,317.9 L1250.2,315.1 L1250.7,312.6 M1246.7,306.9 L1243.9,306.3 M1312.5,394.3 L1313.0,392.0 L1313.6,389.8 M1313.7,365.3 L1311.6,365.5 M1329.8,377.0 L1329.2,374.5 L1328.7,371.4 M1331.1,365.3 L1332.1,365.9 L1332.8,366.2 L1333.1,365.9 L1333.2,364.7 L1333.3,363.0 L1333.6,360.9 L1331.1,359.5 M1331.7,360.7 L1333.9,357.5 L1335.5,354.2 M1334.4,349.7 L1333.5,350.2 L1333.0,350.0 L1332.2,349.0 L1331.5,347.7 M1392.2,335.8 L1393.2,335.1 L1394.7,333.4 L1396.6,330.8 L1395.9,329.3 L1395.4,327.4 L1395.1,325.3 L1394.9,323.4 L1394.9,321.8 L1394.9,320.5 L1394.9,319.5 L1394.9,318.6 L1394.7,317.6 L1394.6,316.4 L1394.3,315.0 L1395.7,313.5 L1397.4,311.8 L1399.3,310.0 L1401.4,308.3 L1403.7,306.8 L1406.0,305.5 L1408.0,304.3 M1424.9,385.8 L1426.7,384.3 L1428.5,382.7 L1430.3,381.2 L1432.1,379.7 L1433.9,378.2 L1435.7,376.6 L1437.4,375.1 L1438.0,372.9 M1442.8,355.1 L1444.5,353.6 L1446.2,352.1 M1502.3,334.6 L1503.1,332.5 L1503.9,330.4 L1504.7,328.3 M1187.4,388.9 L1188.8,387.7 M1217.7,368.1 L1219.8,367.2 M1242.7,317.2 L1245.0,319.5 M1303.1,390.7 L1304.8,390.5 L1306.6,390.3 L1308.3,390.2 L1310.1,390.0 L1311.8,389.9 L1313.6,389.8 M1309.3,369.4 L1312.0,368.4 M1321.1,383.2 L1322.5,383.4 L1324.1,383.3 L1325.9,382.9 M1310.1,367.7 L1312.3,367.5 M1332.0,348.1 L1332.4,348.6 L1332.5,349.1 L1332.6,349.6 L1333.0,350.0 M1331.5,362.4 L1333.3,361.7 L1335.5,360.9 M1392.5,333.2 L1396.6,330.8 M1394.3,315.0 L1397.1,315.3 L1399.9,315.6 M1405.3,315.9 L1407.5,315.6 L1409.5,314.9 L1411.3,313.8 M1425.3,368.1 L1427.4,369.2 M1442.8,355.1 L1444.5,356.2 L1446.2,357.2 L1447.8,358.3 M1459.7,392.5 L1461.0,393.7 L1462.4,394.9 L1463.7,396.1 L1465.1,397.3 L1466.4,398.6 L1467.7,399.8 M1124.3,323.0 L1125.8,321.7 L1127.3,320.5 L1128.8,319.2 M1152.0,301.5 L1153.6,300.4 L1155.2,299.3 M1177.9,287.8 L1179.8,287.1 L1181.7,286.6 L1183.6,286.0 L1185.5,285.4 L1187.4,284.9 L1189.4,284.5 L1191.3,284.0 L1193.2,283.6 L1195.2,283.1 L1197.1,282.7 L1199.6,283.4 M1443.4,283.4 L1445.9,282.7 L1447.8,283.1 L1449.8,283.6 L1451.7,284.0 L1453.6,284.5 L1455.6,284.9 L1457.5,285.4 L1459.4,286.0 L1461.3,286.6 L1463.2,287.1 L1465.1,287.8 M1505.1,311.9 L1506.7,313.1 L1508.2,314.3 M1518.7,323.0 L1520.2,324.3 L1521.7,325.5 M1550.0,352.2 L1551.3,353.5 L1552.7,355.0 L1554.0,356.4 L1555.3,357.8 M1170.0,430.5 L1168.1,428.9 L1166.1,427.3 M1104.2,373.0 L1102.4,371.4 M1093.2,362.9 L1091.3,361.2 M1540.6,371.4 L1542.5,369.7 L1544.3,368.0 L1546.2,366.3 L1548.0,364.6 L1549.8,362.9 L1551.7,361.2 L1553.5,359.5 L1555.3,357.8" fill="none" stroke="#1f6a9c" stroke-width="3.0" stroke-linejoin="round" stroke-linecap="round"/>
<path d="M1192.4,396.5 L1191.5,394.3 L1190.6,392.1 M1134.9,319.8 L1134.1,317.7 L1133.3,315.5 M1212.7,381.2 L1210.9,379.7 M1203.2,366.2 L1202.6,364.0 M1250.7,312.6 L1250.8,310.4 L1250.2,308.8 L1248.8,307.6 L1246.7,306.9 M1313.6,389.8 L1312.8,387.8 L1312.0,385.8 L1311.2,383.8 L1310.5,381.8 L1310.0,380.5 L1310.1,379.3 L1310.3,377.9 L1312.1,376.9 M1315.9,366.1 L1313.7,365.3 M1328.7,371.4 L1328.5,368.5 L1328.1,366.0 L1329.8,365.2 L1331.1,365.3 M1331.1,359.5 L1328.8,359.2 L1326.9,359.9 M1327.3,365.1 L1329.2,363.6 L1331.7,360.7 M1438.0,372.9 L1438.6,370.7 L1439.2,368.4 L1439.8,366.2 L1440.4,364.0 L1441.0,361.8 L1441.6,359.5 L1442.2,357.3 L1442.8,355.1 M1504.7,328.3 L1505.6,326.1 L1506.4,324.0 L1507.2,321.9 L1508.1,319.8 L1508.9,317.7 L1509.7,315.5 M1213.5,370.2 L1215.6,369.2 L1217.7,368.1 M1312.0,368.4 L1314.2,367.3 L1315.9,366.1 M1310.3,377.9 L1312.5,378.5 M1317.4,381.1 L1318.6,382.0 L1319.8,382.7 L1321.1,383.2 M1312.3,367.5 L1314.6,367.2 L1316.5,366.8 M1328.8,361.3 L1333.6,360.9 M1328.1,366.0 L1331.6,367.6 M1329.2,363.6 L1330.1,363.0 L1331.5,362.4 M1399.9,315.6 L1402.7,315.8 L1405.3,315.9 M1427.4,369.2 L1429.5,370.2 L1431.5,371.4 L1433.5,372.6 L1435.5,373.8 L1437.4,375.1 M1128.8,319.2 L1130.3,318.0 L1131.8,316.8 L1133.3,315.5 L1134.8,314.3 M1147.2,304.9 L1148.8,303.7 L1150.4,302.6 L1152.0,301.5 M1199.6,283.4 L1202.0,284.1 L1204.4,284.9 L1206.9,285.8 L1209.3,286.7 L1211.8,287.7 L1214.3,288.8 L1216.7,289.9 L1219.1,291.0 L1221.5,292.1 L1223.9,293.2 L1226.3,294.4 L1228.6,295.6 L1231.0,296.8 L1233.3,298.1 L1235.6,299.4 L1237.9,300.7 L1240.1,302.0 L1242.4,303.3 L1244.6,304.6 L1246.7,305.9 L1248.9,307.2 L1251.0,308.4 L1253.0,309.5 L1255.0,310.5 L1257.0,311.5 L1258.9,312.5 L1260.9,313.5 L1262.8,314.5 L1264.6,315.5 L1266.5,316.5 L1268.4,317.5 L1270.2,318.4 L1272.0,319.3 L1273.7,320.1 L1275.5,320.9 L1277.2,321.6 L1278.9,322.2 L1280.5,322.8 L1282.1,323.3 L1283.7,323.7 L1285.3,324.1 L1286.9,324.5 L1288.5,324.9 L1290.1,325.2 L1291.6,325.6 L1293.2,325.9 L1294.7,326.2 L1296.2,326.5 L1297.8,326.7 L1299.3,326.9 L1300.8,327.1 L1302.3,327.2 L1303.8,327.3 L1305.3,327.5 L1306.7,327.6 L1308.2,327.8 L1309.7,327.9 L1311.2,328.1 L1312.7,328.2 L1314.1,328.3 L1315.6,328.4 L1317.1,328.5 L1318.6,328.6 L1320.0,328.6 L1321.5,328.6 L1323.0,328.6 L1324.4,328.6 L1325.9,328.5 L1327.4,328.4 L1328.9,328.3 L1330.3,328.2 L1331.8,328.1 L1333.3,327.9 L1334.8,327.8 L1336.3,327.6 L1337.7,327.5 L1339.2,327.3 L1340.7,327.2 L1342.2,327.1 L1343.7,326.9 L1345.2,326.7 L1346.8,326.5 L1348.3,326.2 L1349.8,325.9 L1351.4,325.6 L1352.9,325.2 L1354.5,324.9 L1356.1,324.5 L1357.7,324.1 L1359.3,323.7 L1360.9,323.3 L1362.5,322.8 L1364.1,322.2 L1365.8,321.6 L1367.5,320.9 L1369.3,320.1 L1371.0,319.3 L1372.8,318.4 L1374.6,317.5 L1376.5,316.5 L1378.4,315.5 L1380.2,314.5 L1382.1,313.5 L1384.1,312.5 L1386.0,311.5 L1388.0,310.5 L1390.0,309.5 L1392.0,308.4 L1394.1,307.2 L1396.3,305.9 L1398.4,304.6 L1400.6,303.3 L1402.9,302.0 L1405.1,300.7 L1407.4,299.4 L1409.7,298.1 L1412.0,296.8 L1414.4,295.6 L1416.7,294.4 L1419.1,293.2 L1421.5,292.1 L1423.9,291.0 L1426.3,289.9 L1428.7,288.8 L1431.2,287.7 L1433.7,286.7 L1436.1,285.8 L1438.6,284.9 L1441.0,284.1 L1443.4,283.4 M1508.2,314.3 L1509.7,315.5 L1511.2,316.8 M1515.7,320.5 L1517.2,321.7 L1518.7,323.0 M1102.4,371.4 L1100.5,369.7 M1095.0,364.6 L1093.2,362.9" fill="none" stroke="#25868f" stroke-width="3.0" stroke-linejoin="round" stroke-linecap="round"/>
<path d="M1210.9,379.7 L1209.1,378.2 L1207.3,376.6 M1204.4,370.7 L1203.8,368.4 L1203.2,366.2 M1312.1,376.9 L1314.0,376.2 L1315.7,375.4 L1317.1,374.3 L1317.9,372.7 L1318.1,370.4 L1317.1,368.2 L1315.9,366.1 M1326.9,359.9 L1325.6,361.4 L1324.9,363.1 L1325.0,364.6 L1325.9,365.4 L1327.3,365.1 M1209.5,372.6 L1211.5,371.4 L1213.5,370.2 M1312.5,378.5 L1314.4,379.3 L1316.0,380.2 L1317.4,381.1 M1316.5,366.8 L1317.8,366.4 L1318.5,365.9 L1318.8,365.2 L1319.1,364.4 L1319.9,363.5 L1321.7,362.7 L1324.7,361.9 L1328.8,361.3 M1134.8,314.3 L1136.3,313.1 L1137.9,311.9 L1139.4,310.7 L1141.0,309.5 L1142.5,308.4 L1144.1,307.2 L1145.6,306.0 L1147.2,304.9 M1511.2,316.8 L1512.7,318.0 L1514.2,319.2 L1515.7,320.5 M1100.5,369.7 L1098.7,368.0 L1096.8,366.3 L1095.0,364.6" fill="none" stroke="#2a9280" stroke-width="3.0" stroke-linejoin="round" stroke-linecap="round"/>
<path d="M1207.3,376.6 L1205.6,375.1 L1205.0,372.9 L1204.4,370.7 M1205.6,375.1 L1207.5,373.8 L1209.5,372.6" fill="none" stroke="#3a9a6a" stroke-width="3.0" stroke-linejoin="round" stroke-linecap="round"/>
<rect x="1661.6" y="228.80" width="24.3" height="28.07" fill="#ff0000"/>
<rect x="1661.6" y="256.57" width="24.3" height="28.07" fill="#ffb200"/>
<rect x="1661.6" y="284.33" width="24.3" height="28.07" fill="#ffff00"/>
<rect x="1661.6" y="312.10" width="24.3" height="28.07" fill="#b2ff00"/>
<rect x="1661.6" y="339.87" width="24.3" height="28.07" fill="#00ff00"/>
<rect x="1661.6" y="367.63" width="24.3" height="28.07" fill="#00ffb2"/>
<rect x="1661.6" y="395.40" width="24.3" height="28.07" fill="#00ffff"/>
<rect x="1661.6" y="423.17" width="24.3" height="28.07" fill="#00b2ff"/>
<rect x="1661.6" y="450.93" width="24.3" height="28.07" fill="#0000ff"/>
<path d="M1661.6,228.80 H1685.9 M1661.6,284.33 H1685.9 M1661.6,367.63 H1685.9 M1661.6,395.40 H1685.9" stroke="#000" stroke-opacity="0.45" stroke-width="1" fill="none"/>
<text class="sans" transform="translate(1700.6,235.4) scale(1.115,1)" font-size="17.4" font-weight="bold">47.716 Max</text>
<text class="sans" x="1700.6" y="263.1" font-size="17.4" style="fill:#1c1c1c">42.414</text>
<text class="sans" x="1700.6" y="290.7" font-size="17.4" style="fill:#1c1c1c">37.113</text>
<text class="sans" x="1700.6" y="318.4" font-size="17.4" style="fill:#1c1c1c">31.811</text>
<text class="sans" x="1700.6" y="346.1" font-size="17.4" style="fill:#1c1c1c">26.509</text>
<text class="sans" x="1700.6" y="373.8" font-size="17.4" style="fill:#1c1c1c">21.207</text>
<text class="sans" x="1700.6" y="401.4" font-size="17.4" style="fill:#1c1c1c">15.905</text>
<text class="sans" x="1700.6" y="429.1" font-size="17.4" style="fill:#1c1c1c">10.604</text>
<text class="sans" x="1700.6" y="456.8" font-size="17.4" style="fill:#1c1c1c">5.3018</text>
<text class="sans" transform="translate(1700.6,484.4) scale(1.115,1)" font-size="17.4" font-weight="bold">0 Min</text>
<defs>
<pattern id="hr" width="3.3" height="3.3" patternUnits="userSpaceOnUse" patternTransform="rotate(49.5)">
<rect width="3.3" height="3.3" fill="#fff2ef"/><rect width="3.3" height="1.7" fill="#bc0a16"/></pattern>
<pattern id="hg" width="3.3" height="3.3" patternUnits="userSpaceOnUse" patternTransform="rotate(-49.5)">
<rect width="3.3" height="3.3" fill="#f6faf2"/><rect width="3.3" height="1.6" fill="#80b060"/></pattern>
</defs>
<polygon points="529.4,1064.7 542.7,1055.9 551.0,1050.6 557.8,1040.8 565.4,1028.7 573.0,1018.0 580.5,1006.0 588.1,995.4 595.7,987.0 603.2,980.2 610.8,976.4 618.4,973.4 626.0,971.9 633.5,971.4 641.0,970.8 648.7,968.1 656.2,965.1 663.8,963.3 671.4,960.5 678.9,955.2 686.5,949.2 694.0,945.7 701.6,944.6 716.8,944.3 731.9,945.1 747.0,946.2 762.2,947.7 777.3,950.7 787.9,953.5 794.0,950.3 802.7,944.3 810.3,938.2 819.4,934.4 825.4,929.1 833.0,922.3 840.5,916.3 848.1,913.7 858.7,913.7 867.8,915.5 875.4,919.3 882.9,925.4 893.5,935.9 904.1,947.3 913.2,956.4 917.7,954.1 923.8,946.5 931.4,938.2 938.9,929.9 943.5,920.8 949.5,911.7 957.1,904.9 963.9,902.3 967.7,903.4 973.7,909.5 982.8,915.5 991.9,921.3 999.5,916.3 1007.0,909.5 1014.6,902.6 1022.2,895.1 1029.7,888.3 1037.3,883.0 1044.9,876.9 1052.4,870.1 1062.7,860.2 1070.3,854.1 1077.8,850.3 1088.4,847.3 1100.5,845.8 1108.1,844.3 1118.7,843.2 1124.8,843.5 1135.4,845.8 1146.0,850.3 1156.5,854.9 1168.6,859.1 1179.2,862.4 1185.3,863.2 1206.5,863.2 1217.1,862.9 1226.2,857.1 1236.8,851.1 1244.3,848.1 1251.9,843.5 1259.5,839.0 1267.0,834.4 1274.6,827.6 1282.2,820.8 1289.7,814.0 1297.3,805.4 1304.9,800.3 1311.4,797.8 1318.5,796.9 1325.6,797.3 1332.7,798.8 1338.4,796.6 1345.5,794.1 1349.8,788.8 1354.1,781.0 1361.2,770.3 1368.3,760.3 1375.4,751.8 1382.5,743.2 1389.6,736.1 1396.8,732.6 1406.7,731.9 1412.4,728.3 1419.5,724.3 1433.8,724.3 1437.3,729.7 1440.9,725.4 1446.6,714.1 1453.7,698.4 1460.8,686.3 1467.9,672.8 1473.6,664.2 1466.5,706.9 1461.0,758.2 1457.0,805.0 1452.4,832.8 1445.4,868.0 1438.3,903.2 1431.3,931.3 1421.9,959.4 1410.2,984.0 1398.5,1004.0 1386.8,1020.4 1375.0,1034.5 1363.3,1046.2 1351.6,1056.7 1339.9,1064.7" fill="url(#hr)"/>
<polygon points="1339.9,1064.7 1351.6,1056.7 1363.3,1046.2 1375.0,1034.5 1386.8,1020.4 1398.5,1004.0 1410.2,984.0 1421.9,959.4 1431.3,931.3 1438.3,903.2 1445.4,868.0 1452.4,832.8 1457.0,805.0 1461.0,758.2 1466.5,706.9 1473.6,664.2 1474.0,1064.7" fill="url(#hg)"/>
<path d="M529.4,617.0 H1474.0 V1064.7" fill="none" stroke="#141414" stroke-width="1.6"/>
<path d="M529.4,616.5 V1064.7 H1474.5" fill="none" stroke="#000" stroke-width="2.2"/>
<path d="M529.4,1000.7 h13 M529.4,936.8 h13 M529.4,872.8 h13 M529.4,808.9 h13 M529.4,744.9 h13 M529.4,681.0 h13 M686.8,1064.7 v-12.5 M844.3,1064.7 v-12.5 M1001.7,1064.7 v-12.5 M1159.1,1064.7 v-12.5 M1316.6,1064.7 v-12.5 M1474.0,1064.7 v-12.5" fill="none" stroke="#000" stroke-width="1.8"/>
<polyline points="1339.9,1064.7 1351.6,1056.7 1363.3,1046.2 1375.0,1034.5 1386.8,1020.4 1398.5,1004.0 1410.2,984.0 1421.9,959.4 1431.3,931.3 1438.3,903.2 1445.4,868.0 1452.4,832.8 1457.0,805.0 1461.0,758.2 1466.5,706.9 1473.6,664.2" fill="none" stroke="#6cae42" stroke-width="2.4" stroke-linejoin="round"/>
<path d="M1473.4,1064.7 V666" fill="none" stroke="#6cae42" stroke-width="2.6"/>
<polyline points="529.4,1064.7 542.7,1055.9 551.0,1050.6 557.8,1040.8 565.4,1028.7 573.0,1018.0 580.5,1006.0 588.1,995.4 595.7,987.0 603.2,980.2 610.8,976.4 618.4,973.4 626.0,971.9 633.5,971.4 641.0,970.8 648.7,968.1 656.2,965.1 663.8,963.3 671.4,960.5 678.9,955.2 686.5,949.2 694.0,945.7 701.6,944.6 716.8,944.3 731.9,945.1 747.0,946.2 762.2,947.7 777.3,950.7 787.9,953.5 794.0,950.3 802.7,944.3 810.3,938.2 819.4,934.4 825.4,929.1 833.0,922.3 840.5,916.3 848.1,913.7 858.7,913.7 867.8,915.5 875.4,919.3 882.9,925.4 893.5,935.9 904.1,947.3 913.2,956.4 917.7,954.1 923.8,946.5 931.4,938.2 938.9,929.9 943.5,920.8 949.5,911.7 957.1,904.9 963.9,902.3 967.7,903.4 973.7,909.5 982.8,915.5 991.9,921.3 999.5,916.3 1007.0,909.5 1014.6,902.6 1022.2,895.1 1029.7,888.3 1037.3,883.0 1044.9,876.9 1052.4,870.1 1062.7,860.2 1070.3,854.1 1077.8,850.3 1088.4,847.3 1100.5,845.8 1108.1,844.3 1118.7,843.2 1124.8,843.5 1135.4,845.8 1146.0,850.3 1156.5,854.9 1168.6,859.1 1179.2,862.4 1185.3,863.2 1206.5,863.2 1217.1,862.9 1226.2,857.1 1236.8,851.1 1244.3,848.1 1251.9,843.5 1259.5,839.0 1267.0,834.4 1274.6,827.6 1282.2,820.8 1289.7,814.0 1297.3,805.4 1304.9,800.3 1311.4,797.8 1318.5,796.9 1325.6,797.3 1332.7,798.8 1338.4,796.6 1345.5,794.1 1349.8,788.8 1354.1,781.0 1361.2,770.3 1368.3,760.3 1375.4,751.8 1382.5,743.2 1389.6,736.1 1396.8,732.6 1406.7,731.9 1412.4,728.3 1419.5,724.3 1433.8,724.3 1437.3,729.7 1440.9,725.4 1446.6,714.1 1453.7,698.4 1460.8,686.3 1467.9,672.8 1473.6,664.2" fill="none" stroke="#c4000c" stroke-width="2.4" stroke-linejoin="round"/>
<rect x="623.0" y="563.0" width="23.1" height="23.9" fill="url(#hr)" stroke="#cc0010" stroke-width="2.2"/>
<rect x="1026.9" y="563.0" width="23.1" height="23.9" fill="url(#hg)" stroke="#6aaa3c" stroke-width="2.2"/>
<text class="serif" transform="translate(246.0,34.9) scale(1.0,1.04)" font-size="48.8" text-anchor="middle">Start of loading</text>
<text class="serif" transform="translate(246.0,91.2)" font-size="48.8" text-anchor="middle">(a)</text>
<text class="serif" transform="translate(785.0,34.9) scale(1.0,1.04)" font-size="48.8" text-anchor="middle">End of loading</text>
<text class="serif" transform="translate(785.0,91.2)" font-size="48.8" text-anchor="middle">(b)</text>
<text class="serif" transform="translate(1321.0,34.9) scale(1.0,1.04)" font-size="48.8" text-anchor="middle">End of unloading</text>
<text class="serif" transform="translate(1321.0,91.2)" font-size="48.8" text-anchor="middle">(c)</text>
<text class="serif" transform="translate(1730.0,146.2)" font-size="48.8" text-anchor="middle">von Mises</text>
<text class="serif" transform="translate(1730.0,202.0)" font-size="48.8" text-anchor="middle">stress (MPa)</text>
<text class="serif" transform="translate(926.3,541.0) scale(1.0,0.99)" font-size="48.8" text-anchor="middle">(d)</text>
<text class="serif" transform="translate(655.8,589.8) scale(1.004,1.05)" font-size="45" text-anchor="start">Dissipated energy</text>
<text class="serif" transform="translate(1059.8,589.8) scale(1.0,1.05)" font-size="45" text-anchor="start">Absorbed energy</text>
<text class="serif" transform="translate(490.6,1079.7) scale(1.0,1.07)" font-size="44.3" text-anchor="end">0</text>
<text class="serif" transform="translate(490.6,1015.7) scale(1.0,1.07)" font-size="44.3" text-anchor="end">200</text>
<text class="serif" transform="translate(490.6,951.8) scale(1.0,1.07)" font-size="44.3" text-anchor="end">400</text>
<text class="serif" transform="translate(490.6,887.8) scale(1.0,1.07)" font-size="44.3" text-anchor="end">600</text>
<text class="serif" transform="translate(490.6,823.9) scale(1.0,1.07)" font-size="44.3" text-anchor="end">800</text>
<text class="serif" transform="translate(490.6,759.9) scale(1.0,1.07)" font-size="44.3" text-anchor="end">1000</text>
<text class="serif" transform="translate(490.6,696.0) scale(1.0,1.07)" font-size="44.3" text-anchor="end">1200</text>
<text class="serif" transform="translate(490.6,632.0) scale(1.0,1.07)" font-size="44.3" text-anchor="end">1400</text>
<text class="serif" transform="translate(529.4,1135.3) scale(1.0,1.07)" font-size="44.3" text-anchor="middle">0</text>
<text class="serif" transform="translate(686.8,1135.3) scale(1.0,1.07)" font-size="44.3" text-anchor="middle">5</text>
<text class="serif" transform="translate(844.3,1135.3) scale(1.0,1.07)" font-size="44.3" text-anchor="middle">10</text>
<text class="serif" transform="translate(1001.7,1135.3) scale(1.0,1.07)" font-size="44.3" text-anchor="middle">15</text>
<text class="serif" transform="translate(1159.1,1135.3) scale(1.0,1.07)" font-size="44.3" text-anchor="middle">20</text>
<text class="serif" transform="translate(1316.6,1135.3) scale(1.0,1.07)" font-size="44.3" text-anchor="middle">25</text>
<text class="serif" transform="translate(1474.0,1135.3) scale(1.0,1.07)" font-size="44.3" text-anchor="middle">30</text>
<text class="serif" transform="translate(1001.5,1179.0) scale(1.0,1.04)" font-size="54.2" text-anchor="middle">Displacement (mm)</text>
<text class="serif" transform="translate(389.3,849.0) rotate(-90) scale(1.03,1.0)" font-size="53.4" text-anchor="middle">Force (N)</text>
</svg>
</body></html>
